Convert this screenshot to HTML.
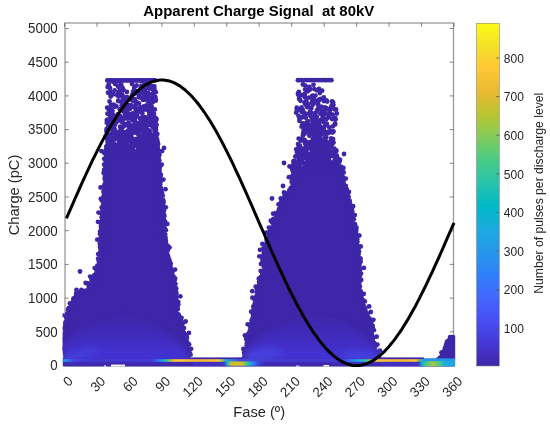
<!DOCTYPE html>
<html lang="en"><head><meta charset="utf-8"><title>Apparent Charge Signal at 80kV</title>
<style>html,body{margin:0;padding:0;background:#fff;}body{width:550px;height:428px;overflow:hidden;font-family:'Liberation Sans',Arial,sans-serif;}</style>
</head><body>
<svg width="550" height="428" viewBox="0 0 550 428" style="display:block">
<defs>
<linearGradient id="par" x1="0" y1="1" x2="0" y2="0">
<stop offset="0.0000" stop-color="#3E26A8"/>
<stop offset="0.0667" stop-color="#4538D7"/>
<stop offset="0.1333" stop-color="#484FF2"/>
<stop offset="0.2000" stop-color="#4367FD"/>
<stop offset="0.2667" stop-color="#2F80FA"/>
<stop offset="0.3333" stop-color="#2797EB"/>
<stop offset="0.4000" stop-color="#1CAADF"/>
<stop offset="0.4667" stop-color="#00B9C7"/>
<stop offset="0.5333" stop-color="#29C3AA"/>
<stop offset="0.6000" stop-color="#48CB86"/>
<stop offset="0.6667" stop-color="#81CC59"/>
<stop offset="0.7333" stop-color="#BBC42F"/>
<stop offset="0.8000" stop-color="#EABA30"/>
<stop offset="0.8667" stop-color="#FEC735"/>
<stop offset="0.9333" stop-color="#F5E128"/>
<stop offset="1.0000" stop-color="#F9FB15"/>
</linearGradient>
<linearGradient id="h1" gradientUnits="userSpaceOnUse" x1="62.5" y1="0" x2="455.5" y2="0">
<stop offset="0.0000" stop-color="#1CAADF" stop-opacity="1"/>
<stop offset="0.0140" stop-color="#2F80FA" stop-opacity="0.9"/>
<stop offset="0.0318" stop-color="#484FF2" stop-opacity="0.5"/>
<stop offset="0.0700" stop-color="#484FF2" stop-opacity="0.25"/>
<stop offset="0.2226" stop-color="#484FF2" stop-opacity="0.35"/>
<stop offset="0.2430" stop-color="#2F80FA" stop-opacity="0.8"/>
<stop offset="0.2557" stop-color="#1CAADF" stop-opacity="1"/>
<stop offset="0.2684" stop-color="#48CB86" stop-opacity="1"/>
<stop offset="0.2786" stop-color="#EABA30" stop-opacity="1"/>
<stop offset="0.2888" stop-color="#FEC735" stop-opacity="1"/>
<stop offset="0.3499" stop-color="#F2B534" stop-opacity="1"/>
<stop offset="0.3982" stop-color="#FEC735" stop-opacity="1"/>
<stop offset="0.4084" stop-color="#81CC59" stop-opacity="1"/>
<stop offset="0.4160" stop-color="#1CAADF" stop-opacity="1"/>
<stop offset="0.4288" stop-color="#2797EB" stop-opacity="0.9"/>
<stop offset="0.4517" stop-color="#4367FD" stop-opacity="0.6"/>
<stop offset="0.5076" stop-color="#484FF2" stop-opacity="0.3"/>
<stop offset="0.7061" stop-color="#484FF2" stop-opacity="0.3"/>
<stop offset="0.7316" stop-color="#2F80FA" stop-opacity="0.8"/>
<stop offset="0.7519" stop-color="#1CAADF" stop-opacity="1"/>
<stop offset="0.7723" stop-color="#29C3AA" stop-opacity="1"/>
<stop offset="0.7875" stop-color="#BBC42F" stop-opacity="1"/>
<stop offset="0.8028" stop-color="#FEC735" stop-opacity="1"/>
<stop offset="0.8588" stop-color="#F2B534" stop-opacity="1"/>
<stop offset="0.8995" stop-color="#FEC735" stop-opacity="1"/>
<stop offset="0.9097" stop-color="#81CC59" stop-opacity="1"/>
<stop offset="0.9198" stop-color="#1CAADF" stop-opacity="1"/>
<stop offset="1.0000" stop-color="#1CAADF" stop-opacity="1"/>
</linearGradient>
<linearGradient id="h2" gradientUnits="userSpaceOnUse" x1="222" y1="0" x2="455.5" y2="0">
<stop offset="0.0000" stop-color="#3E26A8" stop-opacity="0"/>
<stop offset="0.0214" stop-color="#1CAADF" stop-opacity="1"/>
<stop offset="0.0385" stop-color="#BBC42F" stop-opacity="1"/>
<stop offset="0.0642" stop-color="#E0BE30" stop-opacity="1"/>
<stop offset="0.0899" stop-color="#BBC42F" stop-opacity="1"/>
<stop offset="0.1113" stop-color="#29C3AA" stop-opacity="1"/>
<stop offset="0.1370" stop-color="#2F80FA" stop-opacity="0.9"/>
<stop offset="0.1884" stop-color="#4538D7" stop-opacity="0"/>
<stop offset="0.8308" stop-color="#3E26A8" stop-opacity="0"/>
<stop offset="0.8565" stop-color="#1CAADF" stop-opacity="1"/>
<stop offset="0.8737" stop-color="#48CB86" stop-opacity="1"/>
<stop offset="0.9036" stop-color="#A5C845" stop-opacity="1"/>
<stop offset="0.9336" stop-color="#48CB86" stop-opacity="1"/>
<stop offset="0.9550" stop-color="#1CAADF" stop-opacity="1"/>
<stop offset="1.0000" stop-color="#1CAADF" stop-opacity="1"/>
</linearGradient>
<linearGradient id="glow" gradientUnits="userSpaceOnUse" x1="0" y1="312" x2="0" y2="360"><stop offset="0" stop-color="#4030D0" stop-opacity="0"/><stop offset="0.3" stop-color="#4030D0" stop-opacity="0.3"/><stop offset="0.65" stop-color="#4232D6" stop-opacity="0.6"/><stop offset="1" stop-color="#4438E0" stop-opacity="0.9"/></linearGradient>
<filter id="bl" x="-5%" y="-50%" width="110%" height="200%"><feGaussianBlur stdDeviation="0.7"/></filter>
<filter id="bl2" x="-10%" y="-10%" width="120%" height="120%"><feGaussianBlur stdDeviation="3"/></filter>
<clipPath id="axclip"><rect x="62.6" y="20" width="392.6" height="346.6"/></clipPath>
</defs>
<rect width="550" height="428" fill="#fff"/>
<rect x="65.0" y="23.0" width="388.5" height="343.0" fill="none" stroke="#9a9a9a" stroke-width="1.3"/>
<g stroke="#555" stroke-width="0.7" fill="none">
<line x1="64.5" y1="23.0" x2="64.5" y2="26.8"/>
<line x1="64.5" y1="366.0" x2="64.5" y2="362.2"/>
<line x1="97.0" y1="23.0" x2="97.0" y2="26.8"/>
<line x1="97.0" y1="366.0" x2="97.0" y2="362.2"/>
<line x1="129.4" y1="23.0" x2="129.4" y2="26.8"/>
<line x1="129.4" y1="366.0" x2="129.4" y2="362.2"/>
<line x1="161.9" y1="23.0" x2="161.9" y2="26.8"/>
<line x1="161.9" y1="366.0" x2="161.9" y2="362.2"/>
<line x1="194.3" y1="23.0" x2="194.3" y2="26.8"/>
<line x1="194.3" y1="366.0" x2="194.3" y2="362.2"/>
<line x1="226.8" y1="23.0" x2="226.8" y2="26.8"/>
<line x1="226.8" y1="366.0" x2="226.8" y2="362.2"/>
<line x1="259.2" y1="23.0" x2="259.2" y2="26.8"/>
<line x1="259.2" y1="366.0" x2="259.2" y2="362.2"/>
<line x1="291.7" y1="23.0" x2="291.7" y2="26.8"/>
<line x1="291.7" y1="366.0" x2="291.7" y2="362.2"/>
<line x1="324.2" y1="23.0" x2="324.2" y2="26.8"/>
<line x1="324.2" y1="366.0" x2="324.2" y2="362.2"/>
<line x1="356.6" y1="23.0" x2="356.6" y2="26.8"/>
<line x1="356.6" y1="366.0" x2="356.6" y2="362.2"/>
<line x1="389.1" y1="23.0" x2="389.1" y2="26.8"/>
<line x1="389.1" y1="366.0" x2="389.1" y2="362.2"/>
<line x1="421.5" y1="23.0" x2="421.5" y2="26.8"/>
<line x1="421.5" y1="366.0" x2="421.5" y2="362.2"/>
<line x1="454.0" y1="23.0" x2="454.0" y2="26.8"/>
<line x1="454.0" y1="366.0" x2="454.0" y2="362.2"/>
<line x1="65.0" y1="365.5" x2="68.8" y2="365.5"/>
<line x1="453.5" y1="365.5" x2="449.7" y2="365.5"/>
<line x1="65.0" y1="331.8" x2="68.8" y2="331.8"/>
<line x1="453.5" y1="331.8" x2="449.7" y2="331.8"/>
<line x1="65.0" y1="298.1" x2="68.8" y2="298.1"/>
<line x1="453.5" y1="298.1" x2="449.7" y2="298.1"/>
<line x1="65.0" y1="264.4" x2="68.8" y2="264.4"/>
<line x1="453.5" y1="264.4" x2="449.7" y2="264.4"/>
<line x1="65.0" y1="230.7" x2="68.8" y2="230.7"/>
<line x1="453.5" y1="230.7" x2="449.7" y2="230.7"/>
<line x1="65.0" y1="197.0" x2="68.8" y2="197.0"/>
<line x1="453.5" y1="197.0" x2="449.7" y2="197.0"/>
<line x1="65.0" y1="163.3" x2="68.8" y2="163.3"/>
<line x1="453.5" y1="163.3" x2="449.7" y2="163.3"/>
<line x1="65.0" y1="129.6" x2="68.8" y2="129.6"/>
<line x1="453.5" y1="129.6" x2="449.7" y2="129.6"/>
<line x1="65.0" y1="95.9" x2="68.8" y2="95.9"/>
<line x1="453.5" y1="95.9" x2="449.7" y2="95.9"/>
<line x1="65.0" y1="62.2" x2="68.8" y2="62.2"/>
<line x1="453.5" y1="62.2" x2="449.7" y2="62.2"/>
<line x1="65.0" y1="28.5" x2="68.8" y2="28.5"/>
<line x1="453.5" y1="28.5" x2="449.7" y2="28.5"/>
</g>
<g clip-path="url(#axclip)">
<g fill="#3E26A8">
<polygon points="106.5,150.0 106.4,152.0 106.4,154.0 106.3,156.0 106.3,158.0 106.2,160.0 106.2,162.0 106.1,164.0 106.1,166.0 106.0,168.0 106.0,170.0 105.9,172.0 105.7,174.0 105.6,176.0 105.5,178.0 105.3,180.0 105.2,182.0 105.0,184.0 104.9,186.0 104.8,188.0 104.6,190.0 104.5,192.0 104.3,194.0 104.2,196.0 104.1,198.0 103.9,200.0 103.8,202.0 103.7,204.0 103.6,206.0 103.4,208.0 103.3,210.0 103.2,212.0 103.1,214.0 103.0,216.0 102.8,218.0 102.7,220.0 102.6,222.0 102.5,224.0 102.3,226.0 102.2,228.0 102.1,230.0 102.0,232.0 101.9,234.0 101.7,236.0 101.6,238.0 101.5,240.0 101.4,242.0 101.3,244.0 101.2,246.0 101.1,248.0 101.0,250.0 100.8,252.0 100.5,254.0 100.3,256.0 100.1,258.0 99.8,260.0 99.6,262.0 99.2,264.0 98.5,266.0 97.9,268.0 97.3,270.0 96.6,272.0 96.0,274.0 95.1,276.0 94.2,278.0 93.4,280.0 92.5,282.0 91.0,284.0 89.5,286.0 88.0,288.0 79.3,290.0 78.2,292.0 77.1,294.0 76.0,296.0 74.9,298.0 73.8,300.0 72.6,302.0 71.4,304.0 70.2,306.0 69.0,308.0 68.5,310.0 68.0,312.0 67.5,314.0 67.0,316.0 66.5,318.0 66.2,320.0 65.8,322.0 65.5,324.0 65.5,326.0 65.5,328.0 65.5,330.0 65.5,332.0 65.5,334.0 65.5,336.0 65.5,338.0 65.5,340.0 65.5,342.0 65.5,344.0 65.5,346.0 65.5,348.0 65.5,350.0 65.5,352.0 65.5,354.0 65.5,356.0 65.5,358.0 189.5,358.0 189.3,356.0 189.1,354.0 188.9,352.0 188.4,350.0 188.0,348.0 187.5,346.0 187.0,344.0 186.6,342.0 186.1,340.0 185.6,338.0 185.1,336.0 184.5,334.0 183.9,332.0 183.3,330.0 182.7,328.0 182.1,326.0 181.6,324.0 181.0,322.0 180.4,320.0 179.8,318.0 179.2,316.0 178.6,314.0 178.0,312.0 177.6,310.0 177.3,308.0 177.0,306.0 176.7,304.0 176.4,302.0 176.1,300.0 175.8,298.0 175.5,296.0 175.2,294.0 174.9,292.0 174.6,290.0 174.3,288.0 174.0,286.0 173.6,284.0 173.1,282.0 172.7,280.0 172.3,278.0 171.9,276.0 171.4,274.0 171.0,272.0 170.6,270.0 170.1,268.0 169.7,266.0 169.3,264.0 168.9,262.0 168.4,260.0 168.0,258.0 167.7,256.0 167.4,254.0 167.1,252.0 166.8,250.0 166.5,248.0 166.2,246.0 165.9,244.0 165.6,242.0 165.3,240.0 165.0,238.0 164.7,236.0 164.4,234.0 164.2,232.0 164.0,230.0 163.9,228.0 163.7,226.0 163.5,224.0 163.3,222.0 163.1,220.0 163.0,218.0 162.8,216.0 162.6,214.0 162.4,212.0 162.2,210.0 162.0,208.0 161.9,206.0 161.7,204.0 161.5,202.0 161.3,200.0 161.2,198.0 161.0,196.0 160.8,194.0 160.7,192.0 160.5,190.0 160.4,188.0 160.2,186.0 160.0,184.0 159.9,182.0 159.7,180.0 159.5,178.0 159.4,176.0 159.2,174.0 159.0,172.0 158.9,170.0 158.8,168.0 158.7,166.0 158.6,164.0 158.5,162.0 158.4,160.0 158.3,158.0 158.2,156.0 158.1,154.0 158.0,152.0 157.9,150.0"/>
<polygon points="293.7,170.0 293.6,172.0 293.5,174.0 293.4,176.0 293.3,178.0 293.3,180.0 293.2,182.0 293.1,184.0 293.0,186.0 291.5,188.0 290.0,190.0 288.5,192.0 287.0,194.0 285.5,196.0 284.0,198.0 283.2,200.0 282.3,202.0 281.5,204.0 280.6,206.0 279.8,208.0 278.9,210.0 278.1,212.0 277.2,214.0 276.4,216.0 275.5,218.0 274.7,220.0 273.8,222.0 273.0,224.0 272.3,226.0 271.6,228.0 270.9,230.0 270.2,232.0 269.5,234.0 268.8,236.0 268.2,238.0 267.5,240.0 266.8,242.0 266.1,244.0 265.4,246.0 264.7,248.0 264.0,250.0 264.0,252.0 264.0,254.0 264.0,256.0 264.0,258.0 264.0,260.0 264.0,262.0 264.0,264.0 264.0,266.0 264.0,268.0 263.4,270.0 262.9,272.0 262.3,274.0 261.7,276.0 261.2,278.0 260.6,280.0 260.0,282.0 259.5,284.0 258.9,286.0 258.3,288.0 257.8,290.0 257.4,292.0 257.1,294.0 256.9,296.0 256.6,298.0 256.4,300.0 256.1,302.0 255.9,304.0 255.6,306.0 255.4,308.0 255.1,310.0 254.8,312.0 254.2,314.0 253.8,316.0 253.2,318.0 252.8,320.0 252.2,322.0 251.8,324.0 251.2,326.0 250.8,328.0 250.2,330.0 249.8,332.0 249.2,334.0 248.8,336.0 248.3,338.0 247.9,340.0 247.6,342.0 247.2,344.0 246.8,346.0 246.5,348.0 246.1,350.0 245.7,352.0 245.3,354.0 245.0,356.0 244.6,358.0 377.4,358.0 376.8,356.0 376.1,354.0 375.4,352.0 374.8,350.0 374.4,348.0 373.9,346.0 373.5,344.0 373.1,342.0 372.6,340.0 372.2,338.0 371.9,336.0 371.8,334.0 371.6,332.0 371.5,330.0 371.3,328.0 371.2,326.0 371.0,324.0 370.2,322.0 369.4,320.0 368.6,318.0 367.8,316.0 367.0,314.0 366.2,312.0 365.4,310.0 364.7,308.0 364.0,306.0 363.2,304.0 362.5,302.0 361.7,300.0 361.0,298.0 360.6,296.0 360.2,294.0 359.8,292.0 359.3,290.0 358.9,288.0 358.5,286.0 358.6,284.0 358.7,282.0 358.7,280.0 358.8,278.0 358.9,276.0 359.0,274.0 359.0,272.0 359.1,270.0 359.2,268.0 359.1,266.0 358.9,264.0 358.8,262.0 358.7,260.0 358.5,258.0 358.4,256.0 358.3,254.0 358.1,252.0 358.0,250.0 357.6,248.0 357.2,246.0 356.8,244.0 356.5,242.0 356.1,240.0 355.7,238.0 355.3,236.0 354.9,234.0 354.5,232.0 354.2,230.0 353.8,228.0 353.4,226.0 353.0,224.0 352.6,222.0 352.2,220.0 351.8,218.0 351.4,216.0 351.0,214.0 350.6,212.0 350.1,210.0 349.7,208.0 349.3,206.0 348.9,204.0 348.5,202.0 348.1,200.0 347.7,198.0 347.1,196.0 346.5,194.0 345.9,192.0 345.2,190.0 344.6,188.0 344.0,186.0 343.7,184.0 343.3,182.0 343.0,180.0 342.6,178.0 342.3,176.0 341.9,174.0 341.6,172.0 341.2,170.0"/>
<polygon points="450.5,336.5 447,342 444,348 441,354 438.3,358.6 456,358.6 456,336.5"/>
<rect x="62.5" y="357.4" width="393" height="9.3"/>
<rect x="424" y="355" width="12.3" height="3.6" fill="#fff"/>
<circle cx="108.9" cy="146.8" r="2.4"/>
<circle cx="107.5" cy="147.2" r="2.4"/>
<circle cx="107.6" cy="147.5" r="2.4"/>
<circle cx="109.1" cy="148.8" r="2.4"/>
<circle cx="106.4" cy="150.0" r="2.4"/>
<circle cx="107.1" cy="152.4" r="2.4"/>
<circle cx="107.8" cy="153.8" r="2.4"/>
<circle cx="106.2" cy="153.5" r="2.4"/>
<circle cx="108.8" cy="154.5" r="2.4"/>
<circle cx="108.5" cy="156.6" r="2.4"/>
<circle cx="107.8" cy="158.0" r="2.4"/>
<circle cx="108.9" cy="158.3" r="2.4"/>
<circle cx="107.6" cy="159.9" r="2.4"/>
<circle cx="107.5" cy="161.3" r="2.4"/>
<circle cx="106.6" cy="162.8" r="2.4"/>
<circle cx="107.1" cy="165.2" r="2.4"/>
<circle cx="107.9" cy="166.9" r="2.4"/>
<circle cx="107.4" cy="167.4" r="2.4"/>
<circle cx="107.2" cy="167.2" r="2.4"/>
<circle cx="106.2" cy="169.5" r="2.4"/>
<circle cx="106.4" cy="170.8" r="2.4"/>
<circle cx="107.1" cy="172.6" r="2.4"/>
<circle cx="106.9" cy="174.1" r="2.4"/>
<circle cx="106.1" cy="174.9" r="2.4"/>
<circle cx="105.6" cy="176.1" r="2.4"/>
<circle cx="106.0" cy="176.9" r="2.4"/>
<circle cx="107.7" cy="178.4" r="2.4"/>
<circle cx="105.5" cy="179.1" r="2.4"/>
<circle cx="106.7" cy="181.4" r="2.4"/>
<circle cx="106.5" cy="181.7" r="2.4"/>
<circle cx="105.0" cy="183.8" r="2.4"/>
<circle cx="106.4" cy="184.2" r="2.4"/>
<circle cx="104.4" cy="185.4" r="2.4"/>
<circle cx="106.9" cy="186.7" r="2.4"/>
<circle cx="105.6" cy="187.9" r="2.4"/>
<circle cx="106.1" cy="188.9" r="2.4"/>
<circle cx="104.1" cy="190.7" r="2.4"/>
<circle cx="105.2" cy="192.1" r="2.4"/>
<circle cx="104.1" cy="193.0" r="2.4"/>
<circle cx="104.4" cy="194.1" r="2.4"/>
<circle cx="106.7" cy="195.8" r="2.4"/>
<circle cx="106.8" cy="196.0" r="2.4"/>
<circle cx="105.8" cy="196.6" r="2.4"/>
<circle cx="106.4" cy="197.5" r="2.4"/>
<circle cx="106.7" cy="200.0" r="2.4"/>
<circle cx="106.3" cy="200.3" r="2.4"/>
<circle cx="105.4" cy="201.2" r="2.4"/>
<circle cx="104.9" cy="203.5" r="2.4"/>
<circle cx="106.2" cy="204.2" r="2.4"/>
<circle cx="103.6" cy="204.8" r="2.4"/>
<circle cx="103.1" cy="206.2" r="2.4"/>
<circle cx="104.5" cy="206.4" r="2.4"/>
<circle cx="102.8" cy="209.0" r="2.4"/>
<circle cx="105.3" cy="209.9" r="2.4"/>
<circle cx="103.4" cy="211.0" r="2.4"/>
<circle cx="104.9" cy="212.2" r="2.4"/>
<circle cx="102.4" cy="214.6" r="2.4"/>
<circle cx="102.9" cy="216.1" r="2.4"/>
<circle cx="104.0" cy="216.6" r="2.4"/>
<circle cx="105.6" cy="217.4" r="2.4"/>
<circle cx="103.2" cy="219.4" r="2.4"/>
<circle cx="102.2" cy="220.6" r="2.4"/>
<circle cx="104.2" cy="221.3" r="2.4"/>
<circle cx="104.7" cy="222.3" r="2.4"/>
<circle cx="102.1" cy="224.6" r="2.4"/>
<circle cx="102.9" cy="225.8" r="2.4"/>
<circle cx="102.8" cy="226.9" r="2.4"/>
<circle cx="102.5" cy="227.8" r="2.4"/>
<circle cx="102.3" cy="228.5" r="2.4"/>
<circle cx="101.5" cy="230.2" r="2.4"/>
<circle cx="101.5" cy="231.9" r="2.4"/>
<circle cx="104.4" cy="232.1" r="2.4"/>
<circle cx="101.9" cy="233.7" r="2.4"/>
<circle cx="102.3" cy="236.2" r="2.4"/>
<circle cx="104.1" cy="237.1" r="2.4"/>
<circle cx="102.1" cy="239.6" r="2.4"/>
<circle cx="102.8" cy="242.0" r="2.4"/>
<circle cx="103.5" cy="242.7" r="2.4"/>
<circle cx="103.3" cy="244.3" r="2.4"/>
<circle cx="102.7" cy="244.6" r="2.4"/>
<circle cx="102.8" cy="246.8" r="2.4"/>
<circle cx="100.8" cy="248.1" r="2.4"/>
<circle cx="102.1" cy="250.0" r="2.4"/>
<circle cx="102.3" cy="250.0" r="2.4"/>
<circle cx="101.0" cy="250.6" r="2.4"/>
<circle cx="101.0" cy="252.5" r="2.4"/>
<circle cx="101.6" cy="253.7" r="2.4"/>
<circle cx="102.9" cy="255.5" r="2.4"/>
<circle cx="102.1" cy="256.8" r="2.4"/>
<circle cx="101.0" cy="258.0" r="2.4"/>
<circle cx="101.2" cy="259.5" r="2.4"/>
<circle cx="100.8" cy="260.9" r="2.4"/>
<circle cx="100.7" cy="261.8" r="2.4"/>
<circle cx="98.7" cy="265.4" r="2.4"/>
<circle cx="99.4" cy="266.7" r="2.4"/>
<circle cx="100.7" cy="267.5" r="2.4"/>
<circle cx="100.5" cy="268.9" r="2.4"/>
<circle cx="98.0" cy="269.9" r="2.4"/>
<circle cx="99.2" cy="272.0" r="2.4"/>
<circle cx="98.7" cy="273.7" r="2.4"/>
<circle cx="97.9" cy="275.4" r="2.4"/>
<circle cx="94.7" cy="276.0" r="2.4"/>
<circle cx="96.3" cy="277.2" r="2.4"/>
<circle cx="96.8" cy="278.3" r="2.4"/>
<circle cx="96.6" cy="280.3" r="2.4"/>
<circle cx="96.2" cy="281.1" r="2.4"/>
<circle cx="94.2" cy="281.3" r="2.4"/>
<circle cx="92.0" cy="283.9" r="2.4"/>
<circle cx="93.6" cy="286.1" r="2.4"/>
<circle cx="93.0" cy="286.3" r="2.4"/>
<circle cx="90.2" cy="286.0" r="2.4"/>
<circle cx="89.1" cy="286.9" r="2.4"/>
<circle cx="91.0" cy="289.2" r="2.4"/>
<circle cx="89.2" cy="289.7" r="2.4"/>
<circle cx="85.5" cy="291.0" r="2.4"/>
<circle cx="83.3" cy="294.2" r="2.4"/>
<circle cx="82.3" cy="293.4" r="2.4"/>
<circle cx="81.3" cy="293.9" r="2.4"/>
<circle cx="80.1" cy="294.3" r="2.4"/>
<circle cx="79.2" cy="295.2" r="2.4"/>
<circle cx="77.0" cy="294.7" r="2.4"/>
<circle cx="80.7" cy="292.9" r="2.4"/>
<circle cx="80.3" cy="293.0" r="2.4"/>
<circle cx="78.6" cy="294.1" r="2.4"/>
<circle cx="76.8" cy="294.4" r="2.4"/>
<circle cx="77.3" cy="297.2" r="2.4"/>
<circle cx="76.6" cy="298.8" r="2.4"/>
<circle cx="74.2" cy="298.9" r="2.4"/>
<circle cx="74.1" cy="301.5" r="2.4"/>
<circle cx="75.5" cy="303.2" r="2.4"/>
<circle cx="72.9" cy="302.8" r="2.4"/>
<circle cx="73.9" cy="305.6" r="2.4"/>
<circle cx="71.7" cy="305.3" r="2.4"/>
<circle cx="72.2" cy="307.1" r="2.4"/>
<circle cx="71.4" cy="307.3" r="2.4"/>
<circle cx="68.7" cy="308.3" r="2.4"/>
<circle cx="68.4" cy="308.9" r="2.4"/>
<circle cx="70.4" cy="309.1" r="2.4"/>
<circle cx="70.7" cy="310.5" r="2.4"/>
<circle cx="70.4" cy="310.6" r="2.4"/>
<circle cx="70.9" cy="311.8" r="2.4"/>
<circle cx="69.8" cy="313.6" r="2.4"/>
<circle cx="67.7" cy="314.6" r="2.4"/>
<circle cx="67.0" cy="315.5" r="2.4"/>
<circle cx="66.4" cy="316.1" r="2.4"/>
<circle cx="67.3" cy="317.8" r="2.4"/>
<circle cx="66.9" cy="320.1" r="2.4"/>
<circle cx="68.3" cy="321.7" r="2.4"/>
<circle cx="65.6" cy="323.0" r="2.4"/>
<circle cx="66.2" cy="324.9" r="2.4"/>
<circle cx="67.5" cy="324.2" r="2.4"/>
<circle cx="67.1" cy="325.2" r="2.4"/>
<circle cx="66.4" cy="327.7" r="2.4"/>
<circle cx="66.0" cy="328.9" r="2.4"/>
<circle cx="65.6" cy="330.1" r="2.4"/>
<circle cx="66.5" cy="331.2" r="2.4"/>
<circle cx="65.8" cy="331.4" r="2.4"/>
<circle cx="67.4" cy="333.1" r="2.4"/>
<circle cx="65.8" cy="334.4" r="2.4"/>
<circle cx="67.0" cy="334.9" r="2.4"/>
<circle cx="65.7" cy="336.7" r="2.4"/>
<circle cx="68.1" cy="337.4" r="2.4"/>
<circle cx="65.7" cy="338.7" r="2.4"/>
<circle cx="68.3" cy="339.6" r="2.4"/>
<circle cx="66.0" cy="341.7" r="2.4"/>
<circle cx="67.3" cy="342.9" r="2.4"/>
<circle cx="66.7" cy="343.5" r="2.4"/>
<circle cx="67.7" cy="346.6" r="2.4"/>
<circle cx="68.3" cy="347.5" r="2.4"/>
<circle cx="65.0" cy="349.2" r="2.4"/>
<circle cx="67.6" cy="351.0" r="2.4"/>
<circle cx="66.3" cy="350.7" r="2.4"/>
<circle cx="65.0" cy="352.0" r="2.4"/>
<circle cx="66.6" cy="354.9" r="2.4"/>
<circle cx="67.5" cy="356.4" r="2.4"/>
<circle cx="68.3" cy="356.3" r="2.4"/>
<circle cx="106.2" cy="146.7" r="2.4"/>
<circle cx="106.1" cy="150.1" r="2.4"/>
<circle cx="105.0" cy="151.6" r="2.4"/>
<circle cx="104.5" cy="153.2" r="2.4"/>
<circle cx="106.0" cy="156.1" r="2.4"/>
<circle cx="104.2" cy="158.8" r="2.4"/>
<circle cx="105.5" cy="160.6" r="2.4"/>
<circle cx="106.3" cy="163.2" r="2.4"/>
<circle cx="104.2" cy="164.4" r="2.4"/>
<circle cx="105.2" cy="166.4" r="2.4"/>
<circle cx="104.1" cy="169.8" r="2.4"/>
<circle cx="104.0" cy="172.4" r="2.4"/>
<circle cx="104.4" cy="173.7" r="2.4"/>
<circle cx="104.7" cy="178.0" r="2.4"/>
<circle cx="105.0" cy="179.8" r="2.4"/>
<circle cx="105.1" cy="183.9" r="2.4"/>
<circle cx="104.5" cy="186.6" r="2.4"/>
<circle cx="104.4" cy="190.1" r="2.4"/>
<circle cx="103.5" cy="191.8" r="2.4"/>
<circle cx="104.4" cy="193.5" r="2.4"/>
<circle cx="103.3" cy="196.9" r="2.4"/>
<circle cx="101.9" cy="200.6" r="2.4"/>
<circle cx="103.9" cy="202.4" r="2.4"/>
<circle cx="103.5" cy="204.0" r="2.4"/>
<circle cx="101.7" cy="207.5" r="2.4"/>
<circle cx="102.7" cy="209.6" r="2.4"/>
<circle cx="102.8" cy="211.2" r="2.4"/>
<circle cx="101.1" cy="213.3" r="2.4"/>
<circle cx="101.7" cy="217.2" r="2.4"/>
<circle cx="102.5" cy="218.2" r="2.4"/>
<circle cx="101.9" cy="221.7" r="2.4"/>
<circle cx="100.8" cy="223.5" r="2.4"/>
<circle cx="101.0" cy="226.5" r="2.4"/>
<circle cx="101.2" cy="227.7" r="2.4"/>
<circle cx="100.2" cy="231.3" r="2.4"/>
<circle cx="99.9" cy="233.7" r="2.4"/>
<circle cx="100.9" cy="235.8" r="2.4"/>
<circle cx="100.2" cy="239.2" r="2.4"/>
<circle cx="100.7" cy="242.3" r="2.4"/>
<circle cx="99.8" cy="243.4" r="2.4"/>
<circle cx="100.0" cy="247.0" r="2.4"/>
<circle cx="100.8" cy="249.4" r="2.4"/>
<circle cx="101.1" cy="250.7" r="2.4"/>
<circle cx="100.1" cy="252.9" r="2.4"/>
<circle cx="100.7" cy="255.9" r="2.4"/>
<circle cx="98.1" cy="258.7" r="2.4"/>
<circle cx="98.9" cy="261.5" r="2.4"/>
<circle cx="97.4" cy="265.6" r="2.4"/>
<circle cx="97.2" cy="267.8" r="2.4"/>
<circle cx="97.0" cy="270.3" r="2.4"/>
<circle cx="96.4" cy="272.7" r="2.4"/>
<circle cx="94.3" cy="275.2" r="2.4"/>
<circle cx="92.7" cy="278.6" r="2.4"/>
<circle cx="91.5" cy="279.9" r="2.4"/>
<circle cx="91.1" cy="284.5" r="2.4"/>
<circle cx="88.7" cy="284.9" r="2.4"/>
<circle cx="89.0" cy="287.4" r="2.4"/>
<circle cx="83.4" cy="291.4" r="2.4"/>
<circle cx="81.4" cy="289.9" r="2.4"/>
<circle cx="79.9" cy="292.5" r="2.4"/>
<circle cx="76.2" cy="293.5" r="2.4"/>
<circle cx="76.0" cy="295.9" r="2.4"/>
<circle cx="73.6" cy="298.3" r="2.4"/>
<circle cx="73.1" cy="300.9" r="2.4"/>
<circle cx="73.0" cy="302.9" r="2.4"/>
<circle cx="69.9" cy="303.5" r="2.4"/>
<circle cx="69.5" cy="307.8" r="2.4"/>
<circle cx="67.9" cy="309.9" r="2.4"/>
<circle cx="67.1" cy="313.8" r="2.4"/>
<circle cx="66.6" cy="315.7" r="2.4"/>
<circle cx="66.2" cy="317.1" r="2.4"/>
<circle cx="66.8" cy="318.0" r="2.4"/>
<circle cx="65.5" cy="322.4" r="2.4"/>
<circle cx="65.2" cy="325.6" r="2.4"/>
<circle cx="65.2" cy="328.1" r="2.4"/>
<circle cx="65.2" cy="329.1" r="2.4"/>
<circle cx="63.7" cy="333.3" r="2.4"/>
<circle cx="65.8" cy="336.2" r="2.4"/>
<circle cx="63.6" cy="339.9" r="2.4"/>
<circle cx="65.2" cy="341.4" r="2.4"/>
<circle cx="63.6" cy="343.6" r="2.4"/>
<circle cx="64.1" cy="347.8" r="2.4"/>
<circle cx="64.4" cy="350.2" r="2.4"/>
<circle cx="65.0" cy="353.2" r="2.4"/>
<circle cx="65.4" cy="354.8" r="2.4"/>
<circle cx="65.7" cy="355.8" r="2.4"/>
<circle cx="101.4" cy="151.1" r="2.4"/>
<circle cx="103.7" cy="173.1" r="2.4"/>
<circle cx="100.6" cy="187.5" r="2.4"/>
<circle cx="100.8" cy="198.8" r="2.4"/>
<circle cx="98.5" cy="212.6" r="2.4"/>
<circle cx="98.0" cy="221.8" r="2.4"/>
<circle cx="97.3" cy="239.7" r="2.4"/>
<circle cx="98.2" cy="254.1" r="2.4"/>
<circle cx="94.7" cy="268.1" r="2.4"/>
<circle cx="90.2" cy="276.6" r="2.4"/>
<circle cx="88.0" cy="283.3" r="2.4"/>
<circle cx="76.5" cy="290.0" r="2.4"/>
<circle cx="62.2" cy="315.3" r="2.4"/>
<circle cx="61.1" cy="328.4" r="2.4"/>
<circle cx="61.7" cy="337.4" r="2.4"/>
<circle cx="62.4" cy="347.5" r="2.4"/>
<circle cx="157.0" cy="146.8" r="2.4"/>
<circle cx="154.9" cy="147.3" r="2.4"/>
<circle cx="155.6" cy="148.8" r="2.4"/>
<circle cx="157.8" cy="150.0" r="2.4"/>
<circle cx="155.4" cy="150.7" r="2.4"/>
<circle cx="157.3" cy="151.5" r="2.4"/>
<circle cx="157.6" cy="153.0" r="2.4"/>
<circle cx="156.3" cy="155.0" r="2.4"/>
<circle cx="157.3" cy="155.1" r="2.4"/>
<circle cx="158.4" cy="157.3" r="2.4"/>
<circle cx="156.1" cy="158.1" r="2.4"/>
<circle cx="155.5" cy="159.4" r="2.4"/>
<circle cx="158.4" cy="159.7" r="2.4"/>
<circle cx="157.2" cy="161.1" r="2.4"/>
<circle cx="157.6" cy="162.6" r="2.4"/>
<circle cx="156.0" cy="164.4" r="2.4"/>
<circle cx="157.5" cy="164.7" r="2.4"/>
<circle cx="157.7" cy="167.0" r="2.4"/>
<circle cx="157.6" cy="167.7" r="2.4"/>
<circle cx="156.6" cy="168.5" r="2.4"/>
<circle cx="157.7" cy="169.9" r="2.4"/>
<circle cx="157.6" cy="173.0" r="2.4"/>
<circle cx="159.2" cy="173.1" r="2.4"/>
<circle cx="157.2" cy="175.3" r="2.4"/>
<circle cx="159.4" cy="176.4" r="2.4"/>
<circle cx="158.1" cy="178.1" r="2.4"/>
<circle cx="157.2" cy="178.9" r="2.4"/>
<circle cx="160.0" cy="179.9" r="2.4"/>
<circle cx="159.6" cy="181.3" r="2.4"/>
<circle cx="157.6" cy="184.0" r="2.4"/>
<circle cx="159.4" cy="184.7" r="2.4"/>
<circle cx="159.4" cy="186.1" r="2.4"/>
<circle cx="159.0" cy="187.7" r="2.4"/>
<circle cx="159.7" cy="188.5" r="2.4"/>
<circle cx="160.3" cy="189.9" r="2.4"/>
<circle cx="158.3" cy="190.9" r="2.4"/>
<circle cx="158.2" cy="191.7" r="2.4"/>
<circle cx="159.4" cy="192.6" r="2.4"/>
<circle cx="160.1" cy="192.7" r="2.4"/>
<circle cx="160.8" cy="194.9" r="2.4"/>
<circle cx="159.9" cy="195.6" r="2.4"/>
<circle cx="158.8" cy="198.2" r="2.4"/>
<circle cx="161.0" cy="199.8" r="2.4"/>
<circle cx="161.9" cy="200.2" r="2.4"/>
<circle cx="161.8" cy="201.4" r="2.4"/>
<circle cx="159.0" cy="203.5" r="2.4"/>
<circle cx="159.5" cy="205.9" r="2.4"/>
<circle cx="161.8" cy="205.5" r="2.4"/>
<circle cx="162.3" cy="206.9" r="2.4"/>
<circle cx="161.0" cy="208.3" r="2.4"/>
<circle cx="159.9" cy="208.9" r="2.4"/>
<circle cx="161.9" cy="211.7" r="2.4"/>
<circle cx="162.2" cy="211.4" r="2.4"/>
<circle cx="161.9" cy="213.1" r="2.4"/>
<circle cx="161.8" cy="215.2" r="2.4"/>
<circle cx="160.4" cy="217.7" r="2.4"/>
<circle cx="161.5" cy="218.7" r="2.4"/>
<circle cx="163.7" cy="219.2" r="2.4"/>
<circle cx="163.0" cy="220.2" r="2.4"/>
<circle cx="162.9" cy="220.5" r="2.4"/>
<circle cx="161.5" cy="223.3" r="2.4"/>
<circle cx="162.8" cy="225.0" r="2.4"/>
<circle cx="160.7" cy="225.3" r="2.4"/>
<circle cx="163.0" cy="226.7" r="2.4"/>
<circle cx="164.1" cy="227.4" r="2.4"/>
<circle cx="163.3" cy="228.3" r="2.4"/>
<circle cx="162.4" cy="229.3" r="2.4"/>
<circle cx="162.1" cy="231.3" r="2.4"/>
<circle cx="162.1" cy="232.7" r="2.4"/>
<circle cx="162.1" cy="234.5" r="2.4"/>
<circle cx="162.1" cy="234.2" r="2.4"/>
<circle cx="164.6" cy="236.4" r="2.4"/>
<circle cx="162.1" cy="238.3" r="2.4"/>
<circle cx="163.5" cy="239.4" r="2.4"/>
<circle cx="165.7" cy="240.5" r="2.4"/>
<circle cx="165.6" cy="240.4" r="2.4"/>
<circle cx="164.1" cy="242.3" r="2.4"/>
<circle cx="165.5" cy="242.6" r="2.4"/>
<circle cx="166.3" cy="244.1" r="2.4"/>
<circle cx="165.4" cy="245.8" r="2.4"/>
<circle cx="166.2" cy="246.6" r="2.4"/>
<circle cx="164.6" cy="247.8" r="2.4"/>
<circle cx="166.7" cy="250.2" r="2.4"/>
<circle cx="167.0" cy="251.0" r="2.4"/>
<circle cx="166.8" cy="251.9" r="2.4"/>
<circle cx="164.7" cy="252.9" r="2.4"/>
<circle cx="165.7" cy="254.4" r="2.4"/>
<circle cx="167.7" cy="255.5" r="2.4"/>
<circle cx="166.8" cy="256.3" r="2.4"/>
<circle cx="166.9" cy="257.6" r="2.4"/>
<circle cx="166.4" cy="260.9" r="2.4"/>
<circle cx="166.5" cy="260.6" r="2.4"/>
<circle cx="169.4" cy="262.4" r="2.4"/>
<circle cx="169.2" cy="262.9" r="2.4"/>
<circle cx="169.6" cy="264.4" r="2.4"/>
<circle cx="169.2" cy="266.6" r="2.4"/>
<circle cx="170.0" cy="267.3" r="2.4"/>
<circle cx="169.0" cy="269.2" r="2.4"/>
<circle cx="168.7" cy="269.9" r="2.4"/>
<circle cx="168.4" cy="272.5" r="2.4"/>
<circle cx="168.2" cy="272.2" r="2.4"/>
<circle cx="169.6" cy="273.7" r="2.4"/>
<circle cx="168.9" cy="275.6" r="2.4"/>
<circle cx="171.5" cy="276.6" r="2.4"/>
<circle cx="171.2" cy="276.9" r="2.4"/>
<circle cx="172.5" cy="279.2" r="2.4"/>
<circle cx="172.8" cy="280.0" r="2.4"/>
<circle cx="170.4" cy="281.2" r="2.4"/>
<circle cx="170.5" cy="283.1" r="2.4"/>
<circle cx="172.9" cy="284.2" r="2.4"/>
<circle cx="171.8" cy="284.8" r="2.4"/>
<circle cx="173.6" cy="285.4" r="2.4"/>
<circle cx="171.3" cy="287.0" r="2.4"/>
<circle cx="173.9" cy="287.9" r="2.4"/>
<circle cx="175.0" cy="289.1" r="2.4"/>
<circle cx="173.9" cy="290.2" r="2.4"/>
<circle cx="173.6" cy="292.6" r="2.4"/>
<circle cx="174.7" cy="293.2" r="2.4"/>
<circle cx="175.2" cy="293.4" r="2.4"/>
<circle cx="173.1" cy="295.3" r="2.4"/>
<circle cx="175.5" cy="297.5" r="2.4"/>
<circle cx="174.5" cy="297.6" r="2.4"/>
<circle cx="173.7" cy="299.4" r="2.4"/>
<circle cx="176.1" cy="299.8" r="2.4"/>
<circle cx="174.4" cy="301.8" r="2.4"/>
<circle cx="175.4" cy="303.0" r="2.4"/>
<circle cx="174.3" cy="305.7" r="2.4"/>
<circle cx="176.9" cy="306.6" r="2.4"/>
<circle cx="175.7" cy="307.5" r="2.4"/>
<circle cx="175.0" cy="310.2" r="2.4"/>
<circle cx="175.4" cy="309.9" r="2.4"/>
<circle cx="176.7" cy="313.5" r="2.4"/>
<circle cx="177.1" cy="313.9" r="2.4"/>
<circle cx="178.6" cy="315.2" r="2.4"/>
<circle cx="177.3" cy="316.0" r="2.4"/>
<circle cx="179.1" cy="318.2" r="2.4"/>
<circle cx="178.7" cy="319.4" r="2.4"/>
<circle cx="177.9" cy="320.5" r="2.4"/>
<circle cx="178.6" cy="321.6" r="2.4"/>
<circle cx="180.8" cy="323.2" r="2.4"/>
<circle cx="178.9" cy="323.7" r="2.4"/>
<circle cx="180.4" cy="324.3" r="2.4"/>
<circle cx="180.0" cy="327.0" r="2.4"/>
<circle cx="180.2" cy="328.5" r="2.4"/>
<circle cx="181.4" cy="329.1" r="2.4"/>
<circle cx="182.7" cy="329.5" r="2.4"/>
<circle cx="182.6" cy="330.0" r="2.4"/>
<circle cx="182.0" cy="331.1" r="2.4"/>
<circle cx="184.0" cy="332.8" r="2.4"/>
<circle cx="183.7" cy="333.9" r="2.4"/>
<circle cx="183.8" cy="334.7" r="2.4"/>
<circle cx="185.3" cy="335.9" r="2.4"/>
<circle cx="185.2" cy="337.4" r="2.4"/>
<circle cx="186.0" cy="339.0" r="2.4"/>
<circle cx="186.2" cy="340.3" r="2.4"/>
<circle cx="185.1" cy="341.5" r="2.4"/>
<circle cx="184.2" cy="343.3" r="2.4"/>
<circle cx="186.7" cy="344.7" r="2.4"/>
<circle cx="185.9" cy="345.7" r="2.4"/>
<circle cx="186.3" cy="347.4" r="2.4"/>
<circle cx="185.9" cy="349.3" r="2.4"/>
<circle cx="186.9" cy="350.4" r="2.4"/>
<circle cx="186.1" cy="352.5" r="2.4"/>
<circle cx="189.0" cy="353.5" r="2.4"/>
<circle cx="188.2" cy="353.0" r="2.4"/>
<circle cx="188.1" cy="354.7" r="2.4"/>
<circle cx="188.3" cy="356.0" r="2.4"/>
<circle cx="187.4" cy="358.3" r="2.4"/>
<circle cx="157.8" cy="148.9" r="2.4"/>
<circle cx="157.7" cy="150.1" r="2.4"/>
<circle cx="157.7" cy="152.7" r="2.4"/>
<circle cx="159.4" cy="154.9" r="2.4"/>
<circle cx="158.4" cy="157.7" r="2.4"/>
<circle cx="159.3" cy="160.4" r="2.4"/>
<circle cx="159.1" cy="163.6" r="2.4"/>
<circle cx="160.2" cy="166.3" r="2.4"/>
<circle cx="159.6" cy="168.9" r="2.4"/>
<circle cx="159.5" cy="171.9" r="2.4"/>
<circle cx="160.9" cy="174.8" r="2.4"/>
<circle cx="160.4" cy="176.5" r="2.4"/>
<circle cx="160.3" cy="181.0" r="2.4"/>
<circle cx="160.4" cy="182.1" r="2.4"/>
<circle cx="160.1" cy="184.2" r="2.4"/>
<circle cx="160.6" cy="187.6" r="2.4"/>
<circle cx="161.3" cy="190.0" r="2.4"/>
<circle cx="162.0" cy="192.8" r="2.4"/>
<circle cx="162.7" cy="195.7" r="2.4"/>
<circle cx="163.2" cy="200.2" r="2.4"/>
<circle cx="163.1" cy="201.8" r="2.4"/>
<circle cx="163.5" cy="202.4" r="2.4"/>
<circle cx="161.5" cy="203.8" r="2.4"/>
<circle cx="163.4" cy="206.0" r="2.4"/>
<circle cx="163.9" cy="208.6" r="2.4"/>
<circle cx="164.0" cy="210.2" r="2.4"/>
<circle cx="163.8" cy="213.9" r="2.4"/>
<circle cx="164.4" cy="215.9" r="2.4"/>
<circle cx="164.0" cy="219.8" r="2.4"/>
<circle cx="165.1" cy="221.9" r="2.4"/>
<circle cx="163.7" cy="223.5" r="2.4"/>
<circle cx="163.5" cy="226.6" r="2.4"/>
<circle cx="164.7" cy="228.4" r="2.4"/>
<circle cx="165.8" cy="230.2" r="2.4"/>
<circle cx="165.2" cy="234.5" r="2.4"/>
<circle cx="165.4" cy="237.4" r="2.4"/>
<circle cx="165.3" cy="241.4" r="2.4"/>
<circle cx="165.6" cy="244.2" r="2.4"/>
<circle cx="168.1" cy="246.4" r="2.4"/>
<circle cx="167.7" cy="250.3" r="2.4"/>
<circle cx="167.1" cy="254.3" r="2.4"/>
<circle cx="168.3" cy="257.2" r="2.4"/>
<circle cx="169.3" cy="260.1" r="2.4"/>
<circle cx="169.4" cy="261.5" r="2.4"/>
<circle cx="170.8" cy="263.8" r="2.4"/>
<circle cx="170.6" cy="267.5" r="2.4"/>
<circle cx="171.5" cy="270.3" r="2.4"/>
<circle cx="172.5" cy="272.0" r="2.4"/>
<circle cx="171.9" cy="274.8" r="2.4"/>
<circle cx="173.5" cy="276.5" r="2.4"/>
<circle cx="174.5" cy="280.3" r="2.4"/>
<circle cx="173.3" cy="281.3" r="2.4"/>
<circle cx="175.4" cy="283.9" r="2.4"/>
<circle cx="176.2" cy="288.4" r="2.4"/>
<circle cx="175.9" cy="291.4" r="2.4"/>
<circle cx="176.4" cy="293.4" r="2.4"/>
<circle cx="176.4" cy="297.3" r="2.4"/>
<circle cx="175.8" cy="298.0" r="2.4"/>
<circle cx="178.2" cy="301.8" r="2.4"/>
<circle cx="178.3" cy="304.4" r="2.4"/>
<circle cx="177.3" cy="306.5" r="2.4"/>
<circle cx="177.8" cy="309.1" r="2.4"/>
<circle cx="178.3" cy="314.3" r="2.4"/>
<circle cx="179.1" cy="316.2" r="2.4"/>
<circle cx="181.5" cy="317.8" r="2.4"/>
<circle cx="180.8" cy="319.9" r="2.4"/>
<circle cx="183.1" cy="322.7" r="2.4"/>
<circle cx="181.9" cy="325.9" r="2.4"/>
<circle cx="182.3" cy="326.8" r="2.4"/>
<circle cx="184.0" cy="328.1" r="2.4"/>
<circle cx="184.0" cy="333.1" r="2.4"/>
<circle cx="184.2" cy="334.6" r="2.4"/>
<circle cx="186.2" cy="335.3" r="2.4"/>
<circle cx="187.0" cy="337.7" r="2.4"/>
<circle cx="185.8" cy="339.8" r="2.4"/>
<circle cx="187.5" cy="343.0" r="2.4"/>
<circle cx="189.1" cy="344.4" r="2.4"/>
<circle cx="187.2" cy="346.4" r="2.4"/>
<circle cx="187.9" cy="349.0" r="2.4"/>
<circle cx="189.0" cy="352.8" r="2.4"/>
<circle cx="189.6" cy="353.0" r="2.4"/>
<circle cx="190.5" cy="354.7" r="2.4"/>
<circle cx="161.9" cy="151.2" r="2.4"/>
<circle cx="161.7" cy="164.6" r="2.4"/>
<circle cx="163.4" cy="179.6" r="2.4"/>
<circle cx="165.5" cy="189.2" r="2.4"/>
<circle cx="165.8" cy="207.3" r="2.4"/>
<circle cx="167.3" cy="223.9" r="2.4"/>
<circle cx="169.5" cy="247.6" r="2.4"/>
<circle cx="175.0" cy="269.6" r="2.4"/>
<circle cx="175.1" cy="278.4" r="2.4"/>
<circle cx="180.3" cy="296.3" r="2.4"/>
<circle cx="185.6" cy="321.5" r="2.4"/>
<circle cx="188.9" cy="332.9" r="2.4"/>
<circle cx="191.1" cy="348.8" r="2.4"/>
<circle cx="294.0" cy="167.1" r="2.4"/>
<circle cx="294.5" cy="167.7" r="2.4"/>
<circle cx="295.9" cy="168.4" r="2.4"/>
<circle cx="293.8" cy="170.2" r="2.4"/>
<circle cx="293.7" cy="171.5" r="2.4"/>
<circle cx="294.4" cy="172.8" r="2.4"/>
<circle cx="294.6" cy="173.8" r="2.4"/>
<circle cx="295.7" cy="174.8" r="2.4"/>
<circle cx="293.8" cy="176.0" r="2.4"/>
<circle cx="294.8" cy="177.6" r="2.4"/>
<circle cx="296.0" cy="179.4" r="2.4"/>
<circle cx="295.7" cy="180.0" r="2.4"/>
<circle cx="295.5" cy="181.5" r="2.4"/>
<circle cx="294.2" cy="181.7" r="2.4"/>
<circle cx="292.5" cy="183.8" r="2.4"/>
<circle cx="293.9" cy="184.1" r="2.4"/>
<circle cx="294.3" cy="186.8" r="2.4"/>
<circle cx="291.6" cy="188.0" r="2.4"/>
<circle cx="293.3" cy="190.2" r="2.4"/>
<circle cx="292.8" cy="191.7" r="2.4"/>
<circle cx="290.3" cy="192.7" r="2.4"/>
<circle cx="290.7" cy="194.4" r="2.4"/>
<circle cx="289.5" cy="195.7" r="2.4"/>
<circle cx="287.9" cy="195.2" r="2.4"/>
<circle cx="286.8" cy="196.1" r="2.4"/>
<circle cx="286.9" cy="198.9" r="2.4"/>
<circle cx="286.6" cy="199.0" r="2.4"/>
<circle cx="284.7" cy="200.7" r="2.4"/>
<circle cx="285.6" cy="201.6" r="2.4"/>
<circle cx="283.0" cy="202.5" r="2.4"/>
<circle cx="284.4" cy="203.6" r="2.4"/>
<circle cx="282.3" cy="203.9" r="2.4"/>
<circle cx="281.6" cy="204.7" r="2.4"/>
<circle cx="282.8" cy="206.5" r="2.4"/>
<circle cx="282.5" cy="207.9" r="2.4"/>
<circle cx="280.6" cy="207.8" r="2.4"/>
<circle cx="281.6" cy="209.9" r="2.4"/>
<circle cx="280.3" cy="212.8" r="2.4"/>
<circle cx="278.0" cy="212.2" r="2.4"/>
<circle cx="279.5" cy="215.6" r="2.4"/>
<circle cx="277.5" cy="215.7" r="2.4"/>
<circle cx="276.4" cy="216.5" r="2.4"/>
<circle cx="278.2" cy="218.4" r="2.4"/>
<circle cx="275.8" cy="218.9" r="2.4"/>
<circle cx="275.1" cy="219.1" r="2.4"/>
<circle cx="276.9" cy="221.2" r="2.4"/>
<circle cx="275.8" cy="222.3" r="2.4"/>
<circle cx="274.9" cy="224.6" r="2.4"/>
<circle cx="272.9" cy="223.3" r="2.4"/>
<circle cx="274.6" cy="226.5" r="2.4"/>
<circle cx="274.2" cy="227.0" r="2.4"/>
<circle cx="271.0" cy="228.5" r="2.4"/>
<circle cx="273.7" cy="230.1" r="2.4"/>
<circle cx="273.1" cy="232.4" r="2.4"/>
<circle cx="270.0" cy="231.3" r="2.4"/>
<circle cx="271.6" cy="233.7" r="2.4"/>
<circle cx="269.5" cy="234.5" r="2.4"/>
<circle cx="270.3" cy="236.5" r="2.4"/>
<circle cx="269.9" cy="236.1" r="2.4"/>
<circle cx="268.6" cy="237.6" r="2.4"/>
<circle cx="270.9" cy="238.4" r="2.4"/>
<circle cx="269.0" cy="239.5" r="2.4"/>
<circle cx="268.0" cy="241.0" r="2.4"/>
<circle cx="267.9" cy="241.8" r="2.4"/>
<circle cx="267.0" cy="242.8" r="2.4"/>
<circle cx="268.5" cy="245.6" r="2.4"/>
<circle cx="265.5" cy="245.8" r="2.4"/>
<circle cx="267.8" cy="248.1" r="2.4"/>
<circle cx="264.9" cy="247.3" r="2.4"/>
<circle cx="264.7" cy="248.4" r="2.4"/>
<circle cx="265.7" cy="250.2" r="2.4"/>
<circle cx="265.1" cy="250.6" r="2.4"/>
<circle cx="264.3" cy="250.7" r="2.4"/>
<circle cx="265.7" cy="252.2" r="2.4"/>
<circle cx="264.2" cy="252.3" r="2.4"/>
<circle cx="263.5" cy="254.7" r="2.4"/>
<circle cx="265.0" cy="256.1" r="2.4"/>
<circle cx="263.5" cy="256.4" r="2.4"/>
<circle cx="266.5" cy="257.4" r="2.4"/>
<circle cx="266.7" cy="258.8" r="2.4"/>
<circle cx="266.2" cy="260.2" r="2.4"/>
<circle cx="264.8" cy="262.4" r="2.4"/>
<circle cx="266.5" cy="264.4" r="2.4"/>
<circle cx="266.7" cy="264.8" r="2.4"/>
<circle cx="265.1" cy="266.3" r="2.4"/>
<circle cx="265.4" cy="267.0" r="2.4"/>
<circle cx="265.8" cy="270.6" r="2.4"/>
<circle cx="265.2" cy="272.5" r="2.4"/>
<circle cx="264.1" cy="273.4" r="2.4"/>
<circle cx="263.2" cy="274.8" r="2.4"/>
<circle cx="262.0" cy="276.2" r="2.4"/>
<circle cx="263.1" cy="277.7" r="2.4"/>
<circle cx="260.8" cy="279.7" r="2.4"/>
<circle cx="260.6" cy="279.9" r="2.4"/>
<circle cx="259.5" cy="282.5" r="2.4"/>
<circle cx="261.2" cy="283.5" r="2.4"/>
<circle cx="260.7" cy="283.6" r="2.4"/>
<circle cx="260.5" cy="284.8" r="2.4"/>
<circle cx="258.4" cy="286.4" r="2.4"/>
<circle cx="259.0" cy="288.4" r="2.4"/>
<circle cx="258.0" cy="288.7" r="2.4"/>
<circle cx="259.4" cy="291.6" r="2.4"/>
<circle cx="257.0" cy="292.2" r="2.4"/>
<circle cx="258.3" cy="293.1" r="2.4"/>
<circle cx="258.9" cy="294.8" r="2.4"/>
<circle cx="259.3" cy="296.8" r="2.4"/>
<circle cx="257.7" cy="297.8" r="2.4"/>
<circle cx="257.5" cy="298.9" r="2.4"/>
<circle cx="258.8" cy="300.2" r="2.4"/>
<circle cx="258.1" cy="301.2" r="2.4"/>
<circle cx="257.0" cy="302.9" r="2.4"/>
<circle cx="256.8" cy="304.0" r="2.4"/>
<circle cx="256.2" cy="304.6" r="2.4"/>
<circle cx="256.4" cy="306.0" r="2.4"/>
<circle cx="257.6" cy="306.9" r="2.4"/>
<circle cx="256.8" cy="308.7" r="2.4"/>
<circle cx="256.8" cy="310.0" r="2.4"/>
<circle cx="256.0" cy="310.3" r="2.4"/>
<circle cx="254.4" cy="310.9" r="2.4"/>
<circle cx="257.3" cy="313.1" r="2.4"/>
<circle cx="257.2" cy="313.6" r="2.4"/>
<circle cx="254.7" cy="313.8" r="2.4"/>
<circle cx="253.4" cy="315.6" r="2.4"/>
<circle cx="255.5" cy="316.4" r="2.4"/>
<circle cx="254.0" cy="318.4" r="2.4"/>
<circle cx="253.9" cy="319.9" r="2.4"/>
<circle cx="252.8" cy="320.8" r="2.4"/>
<circle cx="252.5" cy="323.0" r="2.4"/>
<circle cx="252.0" cy="322.4" r="2.4"/>
<circle cx="252.4" cy="324.9" r="2.4"/>
<circle cx="252.1" cy="326.5" r="2.4"/>
<circle cx="250.6" cy="328.1" r="2.4"/>
<circle cx="251.8" cy="329.4" r="2.4"/>
<circle cx="252.0" cy="330.9" r="2.4"/>
<circle cx="251.4" cy="332.0" r="2.4"/>
<circle cx="249.4" cy="333.5" r="2.4"/>
<circle cx="251.4" cy="334.9" r="2.4"/>
<circle cx="249.7" cy="335.9" r="2.4"/>
<circle cx="248.4" cy="336.1" r="2.4"/>
<circle cx="247.8" cy="338.1" r="2.4"/>
<circle cx="247.8" cy="339.0" r="2.4"/>
<circle cx="248.7" cy="340.8" r="2.4"/>
<circle cx="247.7" cy="342.4" r="2.4"/>
<circle cx="248.2" cy="344.3" r="2.4"/>
<circle cx="248.5" cy="345.6" r="2.4"/>
<circle cx="248.2" cy="348.0" r="2.4"/>
<circle cx="247.5" cy="348.0" r="2.4"/>
<circle cx="247.6" cy="349.9" r="2.4"/>
<circle cx="245.6" cy="351.6" r="2.4"/>
<circle cx="247.0" cy="352.6" r="2.4"/>
<circle cx="247.0" cy="354.3" r="2.4"/>
<circle cx="247.4" cy="355.7" r="2.4"/>
<circle cx="244.7" cy="357.4" r="2.4"/>
<circle cx="244.3" cy="358.5" r="2.4"/>
<circle cx="292.0" cy="168.5" r="2.4"/>
<circle cx="293.3" cy="170.6" r="2.4"/>
<circle cx="293.5" cy="172.7" r="2.4"/>
<circle cx="292.3" cy="175.8" r="2.4"/>
<circle cx="292.1" cy="178.9" r="2.4"/>
<circle cx="291.6" cy="181.7" r="2.4"/>
<circle cx="293.4" cy="184.8" r="2.4"/>
<circle cx="290.8" cy="187.9" r="2.4"/>
<circle cx="289.4" cy="190.2" r="2.4"/>
<circle cx="287.0" cy="193.5" r="2.4"/>
<circle cx="286.4" cy="194.8" r="2.4"/>
<circle cx="284.6" cy="195.7" r="2.4"/>
<circle cx="284.3" cy="198.5" r="2.4"/>
<circle cx="282.0" cy="199.4" r="2.4"/>
<circle cx="281.3" cy="201.3" r="2.4"/>
<circle cx="281.1" cy="204.2" r="2.4"/>
<circle cx="280.4" cy="207.5" r="2.4"/>
<circle cx="279.0" cy="209.1" r="2.4"/>
<circle cx="278.5" cy="212.2" r="2.4"/>
<circle cx="275.7" cy="213.3" r="2.4"/>
<circle cx="276.4" cy="216.0" r="2.4"/>
<circle cx="273.5" cy="219.0" r="2.4"/>
<circle cx="272.3" cy="222.2" r="2.4"/>
<circle cx="271.0" cy="227.7" r="2.4"/>
<circle cx="270.7" cy="229.4" r="2.4"/>
<circle cx="270.1" cy="231.6" r="2.4"/>
<circle cx="268.5" cy="232.7" r="2.4"/>
<circle cx="268.9" cy="234.8" r="2.4"/>
<circle cx="267.7" cy="238.8" r="2.4"/>
<circle cx="266.6" cy="240.0" r="2.4"/>
<circle cx="267.0" cy="242.3" r="2.4"/>
<circle cx="265.3" cy="245.3" r="2.4"/>
<circle cx="264.8" cy="247.2" r="2.4"/>
<circle cx="263.3" cy="248.6" r="2.4"/>
<circle cx="264.1" cy="251.5" r="2.4"/>
<circle cx="264.0" cy="255.0" r="2.4"/>
<circle cx="262.4" cy="257.9" r="2.4"/>
<circle cx="262.6" cy="260.5" r="2.4"/>
<circle cx="263.9" cy="265.0" r="2.4"/>
<circle cx="263.8" cy="266.8" r="2.4"/>
<circle cx="262.9" cy="271.1" r="2.4"/>
<circle cx="262.2" cy="272.7" r="2.4"/>
<circle cx="261.5" cy="276.5" r="2.4"/>
<circle cx="260.5" cy="277.6" r="2.4"/>
<circle cx="259.4" cy="279.2" r="2.4"/>
<circle cx="259.1" cy="282.0" r="2.4"/>
<circle cx="259.6" cy="284.4" r="2.4"/>
<circle cx="258.0" cy="288.2" r="2.4"/>
<circle cx="257.1" cy="289.3" r="2.4"/>
<circle cx="257.6" cy="291.9" r="2.4"/>
<circle cx="257.1" cy="294.5" r="2.4"/>
<circle cx="256.2" cy="296.9" r="2.4"/>
<circle cx="254.6" cy="299.8" r="2.4"/>
<circle cx="256.0" cy="300.5" r="2.4"/>
<circle cx="254.7" cy="303.8" r="2.4"/>
<circle cx="254.3" cy="306.8" r="2.4"/>
<circle cx="253.7" cy="308.2" r="2.4"/>
<circle cx="254.7" cy="312.8" r="2.4"/>
<circle cx="252.9" cy="314.1" r="2.4"/>
<circle cx="253.7" cy="316.3" r="2.4"/>
<circle cx="252.7" cy="318.0" r="2.4"/>
<circle cx="251.6" cy="320.3" r="2.4"/>
<circle cx="250.7" cy="324.3" r="2.4"/>
<circle cx="250.5" cy="326.4" r="2.4"/>
<circle cx="250.9" cy="329.1" r="2.4"/>
<circle cx="249.8" cy="330.8" r="2.4"/>
<circle cx="248.2" cy="333.8" r="2.4"/>
<circle cx="248.6" cy="337.3" r="2.4"/>
<circle cx="246.7" cy="339.0" r="2.4"/>
<circle cx="246.8" cy="343.1" r="2.4"/>
<circle cx="246.7" cy="345.4" r="2.4"/>
<circle cx="245.4" cy="350.1" r="2.4"/>
<circle cx="244.2" cy="352.7" r="2.4"/>
<circle cx="244.6" cy="354.5" r="2.4"/>
<circle cx="243.9" cy="358.2" r="2.4"/>
<circle cx="289.5" cy="166.4" r="2.4"/>
<circle cx="288.9" cy="177.2" r="2.4"/>
<circle cx="284.0" cy="192.5" r="2.4"/>
<circle cx="280.8" cy="198.3" r="2.4"/>
<circle cx="278.5" cy="204.3" r="2.4"/>
<circle cx="273.2" cy="213.7" r="2.4"/>
<circle cx="270.8" cy="220.7" r="2.4"/>
<circle cx="268.9" cy="227.6" r="2.4"/>
<circle cx="266.3" cy="232.6" r="2.4"/>
<circle cx="262.4" cy="243.9" r="2.4"/>
<circle cx="260.0" cy="249.8" r="2.4"/>
<circle cx="259.4" cy="256.3" r="2.4"/>
<circle cx="261.0" cy="263.9" r="2.4"/>
<circle cx="260.7" cy="270.9" r="2.4"/>
<circle cx="258.8" cy="278.7" r="2.4"/>
<circle cx="255.7" cy="286.7" r="2.4"/>
<circle cx="252.3" cy="291.2" r="2.4"/>
<circle cx="252.4" cy="297.7" r="2.4"/>
<circle cx="253.4" cy="306.5" r="2.4"/>
<circle cx="251.2" cy="311.7" r="2.4"/>
<circle cx="247.7" cy="324.3" r="2.4"/>
<circle cx="244.9" cy="335.5" r="2.4"/>
<circle cx="246.2" cy="338.9" r="2.4"/>
<circle cx="243.4" cy="349.0" r="2.4"/>
<circle cx="341.1" cy="167.0" r="2.4"/>
<circle cx="341.1" cy="169.5" r="2.4"/>
<circle cx="339.1" cy="171.2" r="2.4"/>
<circle cx="339.9" cy="171.7" r="2.4"/>
<circle cx="341.6" cy="172.1" r="2.4"/>
<circle cx="340.9" cy="173.7" r="2.4"/>
<circle cx="341.8" cy="175.6" r="2.4"/>
<circle cx="341.2" cy="176.9" r="2.4"/>
<circle cx="340.7" cy="178.0" r="2.4"/>
<circle cx="342.1" cy="178.0" r="2.4"/>
<circle cx="343.3" cy="178.9" r="2.4"/>
<circle cx="341.6" cy="180.2" r="2.4"/>
<circle cx="340.6" cy="183.0" r="2.4"/>
<circle cx="343.4" cy="183.5" r="2.4"/>
<circle cx="343.2" cy="184.8" r="2.4"/>
<circle cx="342.3" cy="186.1" r="2.4"/>
<circle cx="344.6" cy="187.3" r="2.4"/>
<circle cx="343.6" cy="189.4" r="2.4"/>
<circle cx="342.8" cy="190.0" r="2.4"/>
<circle cx="344.5" cy="192.2" r="2.4"/>
<circle cx="346.3" cy="193.4" r="2.4"/>
<circle cx="346.0" cy="195.1" r="2.4"/>
<circle cx="346.3" cy="195.6" r="2.4"/>
<circle cx="346.4" cy="197.2" r="2.4"/>
<circle cx="346.8" cy="197.4" r="2.4"/>
<circle cx="347.8" cy="197.8" r="2.4"/>
<circle cx="346.5" cy="199.1" r="2.4"/>
<circle cx="346.7" cy="201.3" r="2.4"/>
<circle cx="347.5" cy="202.4" r="2.4"/>
<circle cx="346.2" cy="203.2" r="2.4"/>
<circle cx="348.0" cy="204.5" r="2.4"/>
<circle cx="347.3" cy="206.3" r="2.4"/>
<circle cx="347.7" cy="208.3" r="2.4"/>
<circle cx="347.9" cy="209.7" r="2.4"/>
<circle cx="349.1" cy="210.4" r="2.4"/>
<circle cx="348.7" cy="210.5" r="2.4"/>
<circle cx="350.7" cy="212.2" r="2.4"/>
<circle cx="350.5" cy="213.1" r="2.4"/>
<circle cx="350.7" cy="214.9" r="2.4"/>
<circle cx="350.0" cy="216.8" r="2.4"/>
<circle cx="351.1" cy="219.4" r="2.4"/>
<circle cx="351.8" cy="219.0" r="2.4"/>
<circle cx="350.6" cy="220.2" r="2.4"/>
<circle cx="350.4" cy="222.1" r="2.4"/>
<circle cx="351.6" cy="224.4" r="2.4"/>
<circle cx="352.5" cy="226.5" r="2.4"/>
<circle cx="351.4" cy="228.1" r="2.4"/>
<circle cx="353.7" cy="228.8" r="2.4"/>
<circle cx="351.7" cy="230.3" r="2.4"/>
<circle cx="354.9" cy="231.8" r="2.4"/>
<circle cx="353.7" cy="231.9" r="2.4"/>
<circle cx="354.7" cy="233.1" r="2.4"/>
<circle cx="354.6" cy="235.1" r="2.4"/>
<circle cx="354.2" cy="237.2" r="2.4"/>
<circle cx="353.0" cy="237.5" r="2.4"/>
<circle cx="355.6" cy="238.1" r="2.4"/>
<circle cx="354.3" cy="240.6" r="2.4"/>
<circle cx="354.0" cy="242.1" r="2.4"/>
<circle cx="356.2" cy="243.0" r="2.4"/>
<circle cx="354.0" cy="244.4" r="2.4"/>
<circle cx="356.0" cy="245.9" r="2.4"/>
<circle cx="354.5" cy="246.7" r="2.4"/>
<circle cx="357.1" cy="248.2" r="2.4"/>
<circle cx="355.7" cy="250.5" r="2.4"/>
<circle cx="357.3" cy="250.7" r="2.4"/>
<circle cx="356.1" cy="253.2" r="2.4"/>
<circle cx="355.5" cy="253.5" r="2.4"/>
<circle cx="357.1" cy="255.2" r="2.4"/>
<circle cx="356.7" cy="255.5" r="2.4"/>
<circle cx="356.8" cy="256.9" r="2.4"/>
<circle cx="359.1" cy="258.0" r="2.4"/>
<circle cx="358.1" cy="259.4" r="2.4"/>
<circle cx="357.6" cy="260.5" r="2.4"/>
<circle cx="357.9" cy="263.0" r="2.4"/>
<circle cx="356.2" cy="264.3" r="2.4"/>
<circle cx="359.3" cy="266.0" r="2.4"/>
<circle cx="358.5" cy="266.8" r="2.4"/>
<circle cx="359.2" cy="268.7" r="2.4"/>
<circle cx="357.4" cy="269.1" r="2.4"/>
<circle cx="358.0" cy="270.5" r="2.4"/>
<circle cx="358.1" cy="271.3" r="2.4"/>
<circle cx="357.4" cy="272.0" r="2.4"/>
<circle cx="357.8" cy="273.9" r="2.4"/>
<circle cx="356.9" cy="274.8" r="2.4"/>
<circle cx="356.0" cy="276.5" r="2.4"/>
<circle cx="357.5" cy="277.4" r="2.4"/>
<circle cx="356.6" cy="277.6" r="2.4"/>
<circle cx="357.0" cy="279.8" r="2.4"/>
<circle cx="359.1" cy="280.6" r="2.4"/>
<circle cx="357.8" cy="281.9" r="2.4"/>
<circle cx="357.7" cy="284.3" r="2.4"/>
<circle cx="358.4" cy="284.6" r="2.4"/>
<circle cx="357.6" cy="287.6" r="2.4"/>
<circle cx="356.7" cy="287.4" r="2.4"/>
<circle cx="357.2" cy="289.4" r="2.4"/>
<circle cx="357.7" cy="289.5" r="2.4"/>
<circle cx="359.7" cy="291.2" r="2.4"/>
<circle cx="359.6" cy="292.8" r="2.4"/>
<circle cx="357.6" cy="294.4" r="2.4"/>
<circle cx="358.6" cy="294.8" r="2.4"/>
<circle cx="359.7" cy="296.8" r="2.4"/>
<circle cx="361.1" cy="296.9" r="2.4"/>
<circle cx="360.9" cy="298.8" r="2.4"/>
<circle cx="359.7" cy="299.8" r="2.4"/>
<circle cx="359.5" cy="302.1" r="2.4"/>
<circle cx="361.3" cy="302.6" r="2.4"/>
<circle cx="361.2" cy="302.7" r="2.4"/>
<circle cx="362.7" cy="305.7" r="2.4"/>
<circle cx="363.0" cy="306.0" r="2.4"/>
<circle cx="361.4" cy="306.9" r="2.4"/>
<circle cx="363.9" cy="306.8" r="2.4"/>
<circle cx="363.6" cy="309.4" r="2.4"/>
<circle cx="364.5" cy="310.8" r="2.4"/>
<circle cx="364.3" cy="312.5" r="2.4"/>
<circle cx="366.4" cy="313.4" r="2.4"/>
<circle cx="366.9" cy="314.8" r="2.4"/>
<circle cx="365.5" cy="315.9" r="2.4"/>
<circle cx="365.4" cy="316.9" r="2.4"/>
<circle cx="368.0" cy="318.6" r="2.4"/>
<circle cx="369.2" cy="318.4" r="2.4"/>
<circle cx="366.7" cy="320.7" r="2.4"/>
<circle cx="367.3" cy="322.3" r="2.4"/>
<circle cx="368.4" cy="324.1" r="2.4"/>
<circle cx="368.3" cy="324.1" r="2.4"/>
<circle cx="368.8" cy="324.8" r="2.4"/>
<circle cx="369.3" cy="327.9" r="2.4"/>
<circle cx="370.7" cy="328.1" r="2.4"/>
<circle cx="370.2" cy="329.7" r="2.4"/>
<circle cx="369.1" cy="332.2" r="2.4"/>
<circle cx="371.0" cy="332.4" r="2.4"/>
<circle cx="369.1" cy="334.5" r="2.4"/>
<circle cx="372.3" cy="336.0" r="2.4"/>
<circle cx="369.9" cy="336.5" r="2.4"/>
<circle cx="370.1" cy="338.1" r="2.4"/>
<circle cx="371.9" cy="339.5" r="2.4"/>
<circle cx="370.9" cy="342.0" r="2.4"/>
<circle cx="373.4" cy="343.0" r="2.4"/>
<circle cx="373.2" cy="344.0" r="2.4"/>
<circle cx="371.9" cy="344.8" r="2.4"/>
<circle cx="371.7" cy="346.9" r="2.4"/>
<circle cx="373.0" cy="347.9" r="2.4"/>
<circle cx="372.6" cy="350.2" r="2.4"/>
<circle cx="374.8" cy="350.9" r="2.4"/>
<circle cx="375.8" cy="351.5" r="2.4"/>
<circle cx="373.4" cy="354.2" r="2.4"/>
<circle cx="375.9" cy="352.9" r="2.4"/>
<circle cx="373.7" cy="355.3" r="2.4"/>
<circle cx="374.2" cy="356.9" r="2.4"/>
<circle cx="377.1" cy="358.7" r="2.4"/>
<circle cx="340.9" cy="167.0" r="2.4"/>
<circle cx="340.8" cy="169.6" r="2.4"/>
<circle cx="342.0" cy="170.8" r="2.4"/>
<circle cx="343.7" cy="172.5" r="2.4"/>
<circle cx="342.2" cy="176.5" r="2.4"/>
<circle cx="343.2" cy="177.7" r="2.4"/>
<circle cx="343.2" cy="181.6" r="2.4"/>
<circle cx="343.5" cy="183.6" r="2.4"/>
<circle cx="345.8" cy="185.8" r="2.4"/>
<circle cx="346.7" cy="189.1" r="2.4"/>
<circle cx="345.5" cy="190.9" r="2.4"/>
<circle cx="345.8" cy="193.0" r="2.4"/>
<circle cx="347.6" cy="194.8" r="2.4"/>
<circle cx="348.5" cy="196.6" r="2.4"/>
<circle cx="349.5" cy="200.5" r="2.4"/>
<circle cx="350.0" cy="202.9" r="2.4"/>
<circle cx="350.0" cy="206.1" r="2.4"/>
<circle cx="350.2" cy="207.5" r="2.4"/>
<circle cx="351.9" cy="208.4" r="2.4"/>
<circle cx="352.3" cy="211.6" r="2.4"/>
<circle cx="351.6" cy="214.6" r="2.4"/>
<circle cx="351.6" cy="217.6" r="2.4"/>
<circle cx="353.8" cy="219.2" r="2.4"/>
<circle cx="353.2" cy="223.3" r="2.4"/>
<circle cx="355.0" cy="224.2" r="2.4"/>
<circle cx="355.5" cy="228.1" r="2.4"/>
<circle cx="356.2" cy="230.4" r="2.4"/>
<circle cx="356.2" cy="233.5" r="2.4"/>
<circle cx="356.0" cy="236.9" r="2.4"/>
<circle cx="357.2" cy="239.2" r="2.4"/>
<circle cx="357.4" cy="242.0" r="2.4"/>
<circle cx="357.5" cy="245.9" r="2.4"/>
<circle cx="358.9" cy="247.6" r="2.4"/>
<circle cx="358.1" cy="249.8" r="2.4"/>
<circle cx="359.0" cy="251.6" r="2.4"/>
<circle cx="358.5" cy="254.3" r="2.4"/>
<circle cx="359.3" cy="258.3" r="2.4"/>
<circle cx="360.6" cy="261.8" r="2.4"/>
<circle cx="359.5" cy="263.5" r="2.4"/>
<circle cx="359.0" cy="265.7" r="2.4"/>
<circle cx="359.7" cy="268.7" r="2.4"/>
<circle cx="359.9" cy="270.2" r="2.4"/>
<circle cx="361.0" cy="273.6" r="2.4"/>
<circle cx="359.7" cy="276.2" r="2.4"/>
<circle cx="358.8" cy="279.1" r="2.4"/>
<circle cx="359.6" cy="280.7" r="2.4"/>
<circle cx="359.1" cy="283.3" r="2.4"/>
<circle cx="358.7" cy="285.2" r="2.4"/>
<circle cx="359.9" cy="286.4" r="2.4"/>
<circle cx="359.4" cy="289.7" r="2.4"/>
<circle cx="360.7" cy="291.3" r="2.4"/>
<circle cx="360.6" cy="293.2" r="2.4"/>
<circle cx="360.8" cy="294.9" r="2.4"/>
<circle cx="361.5" cy="298.3" r="2.4"/>
<circle cx="362.9" cy="300.1" r="2.4"/>
<circle cx="362.9" cy="302.1" r="2.4"/>
<circle cx="363.9" cy="306.1" r="2.4"/>
<circle cx="365.2" cy="308.4" r="2.4"/>
<circle cx="365.4" cy="310.9" r="2.4"/>
<circle cx="367.5" cy="313.7" r="2.4"/>
<circle cx="367.5" cy="316.5" r="2.4"/>
<circle cx="369.5" cy="318.9" r="2.4"/>
<circle cx="370.5" cy="321.2" r="2.4"/>
<circle cx="371.2" cy="322.9" r="2.4"/>
<circle cx="372.6" cy="325.7" r="2.4"/>
<circle cx="372.6" cy="327.6" r="2.4"/>
<circle cx="373.0" cy="330.0" r="2.4"/>
<circle cx="371.5" cy="333.3" r="2.4"/>
<circle cx="371.7" cy="335.0" r="2.4"/>
<circle cx="373.4" cy="337.8" r="2.4"/>
<circle cx="372.5" cy="340.6" r="2.4"/>
<circle cx="374.3" cy="343.2" r="2.4"/>
<circle cx="375.4" cy="344.9" r="2.4"/>
<circle cx="375.0" cy="347.1" r="2.4"/>
<circle cx="375.3" cy="351.2" r="2.4"/>
<circle cx="377.5" cy="353.2" r="2.4"/>
<circle cx="377.0" cy="355.2" r="2.4"/>
<circle cx="379.1" cy="358.1" r="2.4"/>
<circle cx="343.4" cy="167.9" r="2.4"/>
<circle cx="345.8" cy="178.6" r="2.4"/>
<circle cx="348.9" cy="192.0" r="2.4"/>
<circle cx="353.1" cy="206.2" r="2.4"/>
<circle cx="354.8" cy="215.1" r="2.4"/>
<circle cx="356.5" cy="227.7" r="2.4"/>
<circle cx="359.4" cy="235.6" r="2.4"/>
<circle cx="360.7" cy="246.5" r="2.4"/>
<circle cx="360.6" cy="258.7" r="2.4"/>
<circle cx="363.9" cy="267.9" r="2.4"/>
<circle cx="361.2" cy="279.9" r="2.4"/>
<circle cx="363.7" cy="294.0" r="2.4"/>
<circle cx="364.8" cy="301.4" r="2.4"/>
<circle cx="369.1" cy="306.4" r="2.4"/>
<circle cx="370.8" cy="312.0" r="2.4"/>
<circle cx="373.4" cy="319.8" r="2.4"/>
<circle cx="373.8" cy="330.2" r="2.4"/>
<circle cx="376.6" cy="336.7" r="2.4"/>
<circle cx="377.4" cy="344.6" r="2.4"/>
<circle cx="380.0" cy="350.6" r="2.4"/>
<circle cx="450.1" cy="337.1" r="2.4"/>
<circle cx="451.4" cy="338.4" r="2.4"/>
<circle cx="450.0" cy="339.8" r="2.4"/>
<circle cx="448.9" cy="340.6" r="2.4"/>
<circle cx="448.2" cy="340.8" r="2.4"/>
<circle cx="447.0" cy="341.8" r="2.4"/>
<circle cx="447.4" cy="343.1" r="2.4"/>
<circle cx="446.2" cy="344.3" r="2.4"/>
<circle cx="446.7" cy="346.8" r="2.4"/>
<circle cx="445.1" cy="347.6" r="2.4"/>
<circle cx="444.6" cy="350.0" r="2.4"/>
<circle cx="443.9" cy="351.8" r="2.4"/>
<circle cx="442.6" cy="352.3" r="2.4"/>
<circle cx="441.5" cy="352.6" r="2.4"/>
<circle cx="442.4" cy="353.5" r="2.4"/>
<circle cx="441.8" cy="356.2" r="2.4"/>
<circle cx="441.7" cy="357.1" r="2.4"/>
<circle cx="440.0" cy="357.8" r="2.4"/>
<circle cx="440.0" cy="358.3" r="2.4"/>
<circle cx="451.0" cy="337.2" r="2.4"/>
<circle cx="453.0" cy="337.2" r="2.4"/>
<circle cx="141.8" cy="80.4" r="2.4"/>
<circle cx="149.2" cy="80.5" r="2.4"/>
<circle cx="152.4" cy="80.2" r="2.4"/>
<circle cx="112.5" cy="81.6" r="2.4"/>
<circle cx="118.8" cy="81.4" r="2.4"/>
<circle cx="144.3" cy="82.0" r="2.4"/>
<circle cx="115.6" cy="83.1" r="2.4"/>
<circle cx="132.0" cy="83.9" r="2.4"/>
<circle cx="145.5" cy="83.4" r="2.4"/>
<circle cx="108.7" cy="84.6" r="2.4"/>
<circle cx="115.1" cy="84.1" r="2.4"/>
<circle cx="121.2" cy="84.7" r="2.4"/>
<circle cx="149.1" cy="84.3" r="2.4"/>
<circle cx="136.6" cy="85.5" r="2.4"/>
<circle cx="141.4" cy="85.7" r="2.4"/>
<circle cx="118.2" cy="86.5" r="2.4"/>
<circle cx="143.4" cy="86.8" r="2.4"/>
<circle cx="147.5" cy="86.9" r="2.4"/>
<circle cx="151.7" cy="86.3" r="2.4"/>
<circle cx="152.4" cy="86.1" r="2.4"/>
<circle cx="154.3" cy="86.5" r="2.4"/>
<circle cx="107.6" cy="87.1" r="2.4"/>
<circle cx="119.6" cy="87.0" r="2.4"/>
<circle cx="122.4" cy="87.7" r="2.4"/>
<circle cx="134.3" cy="87.1" r="2.4"/>
<circle cx="110.0" cy="88.0" r="2.4"/>
<circle cx="120.0" cy="88.3" r="2.4"/>
<circle cx="140.7" cy="88.7" r="2.4"/>
<circle cx="149.0" cy="88.5" r="2.4"/>
<circle cx="151.6" cy="88.7" r="2.4"/>
<circle cx="153.7" cy="88.5" r="2.4"/>
<circle cx="154.1" cy="88.6" r="2.4"/>
<circle cx="122.5" cy="89.0" r="2.4"/>
<circle cx="134.0" cy="89.9" r="2.4"/>
<circle cx="140.9" cy="89.9" r="2.4"/>
<circle cx="142.8" cy="89.2" r="2.4"/>
<circle cx="152.6" cy="89.1" r="2.4"/>
<circle cx="114.6" cy="90.5" r="2.4"/>
<circle cx="119.9" cy="90.5" r="2.4"/>
<circle cx="123.5" cy="90.0" r="2.4"/>
<circle cx="135.5" cy="90.8" r="2.4"/>
<circle cx="144.9" cy="90.1" r="2.4"/>
<circle cx="110.5" cy="91.8" r="2.4"/>
<circle cx="133.0" cy="91.8" r="2.4"/>
<circle cx="141.6" cy="91.3" r="2.4"/>
<circle cx="155.0" cy="91.2" r="2.4"/>
<circle cx="108.0" cy="92.7" r="2.4"/>
<circle cx="118.5" cy="92.2" r="2.4"/>
<circle cx="126.9" cy="92.0" r="2.4"/>
<circle cx="137.1" cy="92.4" r="2.4"/>
<circle cx="141.7" cy="92.3" r="2.4"/>
<circle cx="143.6" cy="92.2" r="2.4"/>
<circle cx="148.0" cy="92.9" r="2.4"/>
<circle cx="155.8" cy="92.3" r="2.4"/>
<circle cx="109.8" cy="93.8" r="2.4"/>
<circle cx="134.4" cy="93.8" r="2.4"/>
<circle cx="136.2" cy="93.1" r="2.4"/>
<circle cx="138.9" cy="93.4" r="2.4"/>
<circle cx="144.1" cy="93.4" r="2.4"/>
<circle cx="147.0" cy="93.7" r="2.4"/>
<circle cx="152.7" cy="93.5" r="2.4"/>
<circle cx="113.2" cy="94.3" r="2.4"/>
<circle cx="121.4" cy="94.5" r="2.4"/>
<circle cx="122.2" cy="94.7" r="2.4"/>
<circle cx="139.0" cy="94.0" r="2.4"/>
<circle cx="148.7" cy="94.2" r="2.4"/>
<circle cx="117.1" cy="95.1" r="2.4"/>
<circle cx="119.4" cy="95.2" r="2.4"/>
<circle cx="132.0" cy="95.1" r="2.4"/>
<circle cx="143.7" cy="95.1" r="2.4"/>
<circle cx="144.1" cy="95.2" r="2.4"/>
<circle cx="153.0" cy="95.6" r="2.4"/>
<circle cx="110.7" cy="96.5" r="2.4"/>
<circle cx="118.5" cy="96.6" r="2.4"/>
<circle cx="122.2" cy="96.6" r="2.4"/>
<circle cx="143.9" cy="96.4" r="2.4"/>
<circle cx="146.4" cy="96.9" r="2.4"/>
<circle cx="153.4" cy="96.1" r="2.4"/>
<circle cx="123.3" cy="97.7" r="2.4"/>
<circle cx="124.8" cy="97.1" r="2.4"/>
<circle cx="127.0" cy="97.2" r="2.4"/>
<circle cx="129.9" cy="97.9" r="2.4"/>
<circle cx="138.8" cy="97.1" r="2.4"/>
<circle cx="140.4" cy="97.6" r="2.4"/>
<circle cx="148.9" cy="97.6" r="2.4"/>
<circle cx="155.4" cy="97.1" r="2.4"/>
<circle cx="124.5" cy="98.2" r="2.4"/>
<circle cx="144.4" cy="98.0" r="2.4"/>
<circle cx="145.3" cy="98.1" r="2.4"/>
<circle cx="150.3" cy="98.5" r="2.4"/>
<circle cx="154.8" cy="98.3" r="2.4"/>
<circle cx="124.7" cy="99.9" r="2.4"/>
<circle cx="129.5" cy="99.7" r="2.4"/>
<circle cx="131.2" cy="99.0" r="2.4"/>
<circle cx="133.0" cy="99.7" r="2.4"/>
<circle cx="134.8" cy="99.1" r="2.4"/>
<circle cx="143.0" cy="99.9" r="2.4"/>
<circle cx="144.0" cy="99.7" r="2.4"/>
<circle cx="154.0" cy="99.9" r="2.4"/>
<circle cx="155.6" cy="99.3" r="2.4"/>
<circle cx="122.5" cy="100.6" r="2.4"/>
<circle cx="133.0" cy="100.9" r="2.4"/>
<circle cx="149.3" cy="100.3" r="2.4"/>
<circle cx="155.7" cy="100.7" r="2.4"/>
<circle cx="109.6" cy="101.5" r="2.4"/>
<circle cx="118.1" cy="101.0" r="2.4"/>
<circle cx="120.8" cy="101.7" r="2.4"/>
<circle cx="136.3" cy="101.8" r="2.4"/>
<circle cx="147.7" cy="101.0" r="2.4"/>
<circle cx="152.3" cy="101.8" r="2.4"/>
<circle cx="137.2" cy="102.8" r="2.4"/>
<circle cx="152.7" cy="102.3" r="2.4"/>
<circle cx="122.7" cy="103.4" r="2.4"/>
<circle cx="122.8" cy="103.7" r="2.4"/>
<circle cx="138.9" cy="103.3" r="2.4"/>
<circle cx="149.9" cy="103.0" r="2.4"/>
<circle cx="113.6" cy="104.7" r="2.4"/>
<circle cx="135.6" cy="104.8" r="2.4"/>
<circle cx="136.1" cy="104.4" r="2.4"/>
<circle cx="110.9" cy="105.0" r="2.4"/>
<circle cx="115.0" cy="105.7" r="2.4"/>
<circle cx="121.7" cy="105.4" r="2.4"/>
<circle cx="126.6" cy="105.7" r="2.4"/>
<circle cx="128.8" cy="105.1" r="2.4"/>
<circle cx="130.4" cy="105.6" r="2.4"/>
<circle cx="130.9" cy="105.1" r="2.4"/>
<circle cx="146.1" cy="105.7" r="2.4"/>
<circle cx="147.3" cy="105.6" r="2.4"/>
<circle cx="148.2" cy="105.7" r="2.4"/>
<circle cx="114.5" cy="106.7" r="2.4"/>
<circle cx="116.5" cy="106.4" r="2.4"/>
<circle cx="143.7" cy="106.7" r="2.4"/>
<circle cx="144.5" cy="106.5" r="2.4"/>
<circle cx="149.5" cy="106.1" r="2.4"/>
<circle cx="151.6" cy="106.4" r="2.4"/>
<circle cx="107.2" cy="107.7" r="2.4"/>
<circle cx="124.5" cy="107.1" r="2.4"/>
<circle cx="126.7" cy="107.5" r="2.4"/>
<circle cx="128.4" cy="107.3" r="2.4"/>
<circle cx="131.2" cy="107.0" r="2.4"/>
<circle cx="134.2" cy="107.4" r="2.4"/>
<circle cx="140.5" cy="107.1" r="2.4"/>
<circle cx="110.6" cy="108.8" r="2.4"/>
<circle cx="136.3" cy="108.9" r="2.4"/>
<circle cx="139.9" cy="108.1" r="2.4"/>
<circle cx="108.7" cy="109.5" r="2.4"/>
<circle cx="119.8" cy="109.4" r="2.4"/>
<circle cx="124.1" cy="109.9" r="2.4"/>
<circle cx="126.9" cy="109.1" r="2.4"/>
<circle cx="129.6" cy="109.2" r="2.4"/>
<circle cx="136.5" cy="109.9" r="2.4"/>
<circle cx="137.5" cy="109.2" r="2.4"/>
<circle cx="138.1" cy="109.6" r="2.4"/>
<circle cx="144.4" cy="109.5" r="2.4"/>
<circle cx="147.9" cy="109.1" r="2.4"/>
<circle cx="151.2" cy="109.5" r="2.4"/>
<circle cx="154.8" cy="109.4" r="2.4"/>
<circle cx="112.2" cy="110.3" r="2.4"/>
<circle cx="122.8" cy="110.3" r="2.4"/>
<circle cx="124.4" cy="110.4" r="2.4"/>
<circle cx="135.8" cy="110.8" r="2.4"/>
<circle cx="140.2" cy="110.3" r="2.4"/>
<circle cx="141.5" cy="110.7" r="2.4"/>
<circle cx="147.6" cy="110.0" r="2.4"/>
<circle cx="151.4" cy="110.9" r="2.4"/>
<circle cx="110.2" cy="111.9" r="2.4"/>
<circle cx="112.2" cy="111.4" r="2.4"/>
<circle cx="123.4" cy="111.6" r="2.4"/>
<circle cx="126.4" cy="111.8" r="2.4"/>
<circle cx="127.0" cy="111.0" r="2.4"/>
<circle cx="136.8" cy="111.7" r="2.4"/>
<circle cx="140.6" cy="111.7" r="2.4"/>
<circle cx="141.1" cy="111.6" r="2.4"/>
<circle cx="141.7" cy="111.3" r="2.4"/>
<circle cx="149.1" cy="112.0" r="2.4"/>
<circle cx="107.5" cy="113.7" r="2.4"/>
<circle cx="132.6" cy="113.4" r="2.4"/>
<circle cx="136.1" cy="113.3" r="2.4"/>
<circle cx="137.1" cy="113.7" r="2.4"/>
<circle cx="142.4" cy="113.6" r="2.4"/>
<circle cx="151.0" cy="113.6" r="2.4"/>
<circle cx="153.9" cy="113.3" r="2.4"/>
<circle cx="108.7" cy="114.2" r="2.4"/>
<circle cx="113.5" cy="114.8" r="2.4"/>
<circle cx="118.1" cy="114.2" r="2.4"/>
<circle cx="125.0" cy="114.7" r="2.4"/>
<circle cx="128.2" cy="114.2" r="2.4"/>
<circle cx="128.8" cy="114.0" r="2.4"/>
<circle cx="149.6" cy="114.3" r="2.4"/>
<circle cx="150.3" cy="114.5" r="2.4"/>
<circle cx="119.9" cy="115.9" r="2.4"/>
<circle cx="131.3" cy="115.1" r="2.4"/>
<circle cx="135.2" cy="115.6" r="2.4"/>
<circle cx="136.0" cy="115.6" r="2.4"/>
<circle cx="151.3" cy="115.0" r="2.4"/>
<circle cx="110.6" cy="116.4" r="2.4"/>
<circle cx="118.0" cy="116.0" r="2.4"/>
<circle cx="119.3" cy="116.1" r="2.4"/>
<circle cx="134.6" cy="116.5" r="2.4"/>
<circle cx="137.4" cy="116.4" r="2.4"/>
<circle cx="154.4" cy="116.7" r="2.4"/>
<circle cx="122.0" cy="117.6" r="2.4"/>
<circle cx="128.5" cy="117.2" r="2.4"/>
<circle cx="133.5" cy="117.2" r="2.4"/>
<circle cx="142.1" cy="117.5" r="2.4"/>
<circle cx="142.9" cy="117.8" r="2.4"/>
<circle cx="144.9" cy="117.5" r="2.4"/>
<circle cx="146.2" cy="117.5" r="2.4"/>
<circle cx="150.6" cy="117.1" r="2.4"/>
<circle cx="151.4" cy="117.5" r="2.4"/>
<circle cx="112.3" cy="118.6" r="2.4"/>
<circle cx="116.5" cy="118.8" r="2.4"/>
<circle cx="116.9" cy="118.0" r="2.4"/>
<circle cx="119.2" cy="118.2" r="2.4"/>
<circle cx="124.9" cy="118.0" r="2.4"/>
<circle cx="127.4" cy="118.7" r="2.4"/>
<circle cx="130.4" cy="118.4" r="2.4"/>
<circle cx="134.6" cy="118.5" r="2.4"/>
<circle cx="140.1" cy="118.8" r="2.4"/>
<circle cx="149.0" cy="118.8" r="2.4"/>
<circle cx="151.3" cy="118.6" r="2.4"/>
<circle cx="154.0" cy="118.7" r="2.4"/>
<circle cx="156.3" cy="118.6" r="2.4"/>
<circle cx="108.1" cy="119.3" r="2.4"/>
<circle cx="111.3" cy="119.2" r="2.4"/>
<circle cx="116.4" cy="119.0" r="2.4"/>
<circle cx="118.4" cy="119.3" r="2.4"/>
<circle cx="123.2" cy="119.3" r="2.4"/>
<circle cx="134.7" cy="119.4" r="2.4"/>
<circle cx="141.2" cy="119.4" r="2.4"/>
<circle cx="147.1" cy="119.9" r="2.4"/>
<circle cx="151.6" cy="119.1" r="2.4"/>
<circle cx="154.0" cy="119.1" r="2.4"/>
<circle cx="155.8" cy="119.2" r="2.4"/>
<circle cx="106.8" cy="120.1" r="2.4"/>
<circle cx="115.4" cy="120.0" r="2.4"/>
<circle cx="119.7" cy="120.6" r="2.4"/>
<circle cx="132.5" cy="120.4" r="2.4"/>
<circle cx="134.2" cy="120.5" r="2.4"/>
<circle cx="152.5" cy="120.1" r="2.4"/>
<circle cx="155.1" cy="120.7" r="2.4"/>
<circle cx="156.3" cy="120.1" r="2.4"/>
<circle cx="109.9" cy="121.9" r="2.4"/>
<circle cx="141.8" cy="121.5" r="2.4"/>
<circle cx="144.8" cy="121.7" r="2.4"/>
<circle cx="153.1" cy="121.3" r="2.4"/>
<circle cx="154.5" cy="121.3" r="2.4"/>
<circle cx="155.6" cy="121.2" r="2.4"/>
<circle cx="106.8" cy="122.7" r="2.4"/>
<circle cx="116.5" cy="122.0" r="2.4"/>
<circle cx="122.2" cy="122.2" r="2.4"/>
<circle cx="136.0" cy="122.7" r="2.4"/>
<circle cx="146.3" cy="122.8" r="2.4"/>
<circle cx="149.8" cy="122.4" r="2.4"/>
<circle cx="110.1" cy="123.0" r="2.4"/>
<circle cx="128.7" cy="123.0" r="2.4"/>
<circle cx="137.0" cy="123.2" r="2.4"/>
<circle cx="139.2" cy="123.3" r="2.4"/>
<circle cx="142.4" cy="123.8" r="2.4"/>
<circle cx="144.3" cy="123.8" r="2.4"/>
<circle cx="147.5" cy="123.6" r="2.4"/>
<circle cx="115.1" cy="124.5" r="2.4"/>
<circle cx="123.9" cy="124.8" r="2.4"/>
<circle cx="125.4" cy="124.0" r="2.4"/>
<circle cx="144.2" cy="124.7" r="2.4"/>
<circle cx="145.9" cy="124.4" r="2.4"/>
<circle cx="148.5" cy="124.3" r="2.4"/>
<circle cx="150.9" cy="124.1" r="2.4"/>
<circle cx="151.9" cy="124.7" r="2.4"/>
<circle cx="154.4" cy="124.5" r="2.4"/>
<circle cx="155.4" cy="124.8" r="2.4"/>
<circle cx="156.6" cy="124.8" r="2.4"/>
<circle cx="108.4" cy="125.8" r="2.4"/>
<circle cx="109.3" cy="125.7" r="2.4"/>
<circle cx="124.4" cy="125.8" r="2.4"/>
<circle cx="128.3" cy="125.7" r="2.4"/>
<circle cx="129.8" cy="125.7" r="2.4"/>
<circle cx="132.6" cy="125.3" r="2.4"/>
<circle cx="134.6" cy="125.7" r="2.4"/>
<circle cx="136.2" cy="125.0" r="2.4"/>
<circle cx="141.9" cy="125.2" r="2.4"/>
<circle cx="147.9" cy="125.2" r="2.4"/>
<circle cx="150.9" cy="125.2" r="2.4"/>
<circle cx="112.9" cy="126.7" r="2.4"/>
<circle cx="113.9" cy="126.9" r="2.4"/>
<circle cx="120.1" cy="126.7" r="2.4"/>
<circle cx="133.4" cy="126.6" r="2.4"/>
<circle cx="137.3" cy="126.8" r="2.4"/>
<circle cx="144.2" cy="126.7" r="2.4"/>
<circle cx="145.4" cy="126.2" r="2.4"/>
<circle cx="152.5" cy="126.5" r="2.4"/>
<circle cx="121.5" cy="127.3" r="2.4"/>
<circle cx="129.4" cy="127.6" r="2.4"/>
<circle cx="135.9" cy="127.6" r="2.4"/>
<circle cx="137.8" cy="127.0" r="2.4"/>
<circle cx="143.5" cy="127.8" r="2.4"/>
<circle cx="153.3" cy="127.6" r="2.4"/>
<circle cx="155.7" cy="127.2" r="2.4"/>
<circle cx="106.7" cy="128.8" r="2.4"/>
<circle cx="122.2" cy="128.0" r="2.4"/>
<circle cx="132.1" cy="128.2" r="2.4"/>
<circle cx="133.5" cy="128.6" r="2.4"/>
<circle cx="139.8" cy="128.5" r="2.4"/>
<circle cx="141.6" cy="128.3" r="2.4"/>
<circle cx="142.6" cy="128.7" r="2.4"/>
<circle cx="145.0" cy="128.1" r="2.4"/>
<circle cx="146.4" cy="128.2" r="2.4"/>
<circle cx="107.5" cy="129.3" r="2.4"/>
<circle cx="112.0" cy="129.3" r="2.4"/>
<circle cx="113.1" cy="129.2" r="2.4"/>
<circle cx="114.6" cy="129.1" r="2.4"/>
<circle cx="130.1" cy="129.6" r="2.4"/>
<circle cx="131.1" cy="129.8" r="2.4"/>
<circle cx="131.9" cy="129.2" r="2.4"/>
<circle cx="137.8" cy="129.4" r="2.4"/>
<circle cx="139.9" cy="129.0" r="2.4"/>
<circle cx="141.3" cy="129.5" r="2.4"/>
<circle cx="143.0" cy="129.0" r="2.4"/>
<circle cx="145.4" cy="129.7" r="2.4"/>
<circle cx="154.7" cy="129.9" r="2.4"/>
<circle cx="156.0" cy="129.7" r="2.4"/>
<circle cx="108.1" cy="130.1" r="2.4"/>
<circle cx="115.0" cy="130.3" r="2.4"/>
<circle cx="120.6" cy="130.0" r="2.4"/>
<circle cx="127.8" cy="130.7" r="2.4"/>
<circle cx="130.0" cy="130.4" r="2.4"/>
<circle cx="134.0" cy="130.2" r="2.4"/>
<circle cx="134.2" cy="130.9" r="2.4"/>
<circle cx="136.3" cy="130.8" r="2.4"/>
<circle cx="139.5" cy="130.9" r="2.4"/>
<circle cx="140.5" cy="130.0" r="2.4"/>
<circle cx="143.1" cy="130.8" r="2.4"/>
<circle cx="144.8" cy="130.4" r="2.4"/>
<circle cx="146.6" cy="130.8" r="2.4"/>
<circle cx="148.0" cy="130.4" r="2.4"/>
<circle cx="149.6" cy="130.6" r="2.4"/>
<circle cx="155.1" cy="130.3" r="2.4"/>
<circle cx="106.4" cy="131.0" r="2.4"/>
<circle cx="119.4" cy="131.8" r="2.4"/>
<circle cx="122.2" cy="131.1" r="2.4"/>
<circle cx="136.5" cy="131.4" r="2.4"/>
<circle cx="144.0" cy="131.7" r="2.4"/>
<circle cx="149.0" cy="131.8" r="2.4"/>
<circle cx="154.9" cy="131.8" r="2.4"/>
<circle cx="155.3" cy="131.6" r="2.4"/>
<circle cx="112.5" cy="132.9" r="2.4"/>
<circle cx="115.0" cy="132.7" r="2.4"/>
<circle cx="116.8" cy="132.6" r="2.4"/>
<circle cx="121.5" cy="132.4" r="2.4"/>
<circle cx="125.2" cy="132.3" r="2.4"/>
<circle cx="130.7" cy="132.3" r="2.4"/>
<circle cx="135.4" cy="132.6" r="2.4"/>
<circle cx="138.1" cy="132.5" r="2.4"/>
<circle cx="139.3" cy="132.6" r="2.4"/>
<circle cx="146.2" cy="132.4" r="2.4"/>
<circle cx="148.1" cy="132.1" r="2.4"/>
<circle cx="149.3" cy="132.3" r="2.4"/>
<circle cx="112.7" cy="133.3" r="2.4"/>
<circle cx="117.2" cy="133.6" r="2.4"/>
<circle cx="119.6" cy="133.4" r="2.4"/>
<circle cx="120.1" cy="133.2" r="2.4"/>
<circle cx="132.9" cy="133.1" r="2.4"/>
<circle cx="143.8" cy="133.2" r="2.4"/>
<circle cx="145.5" cy="133.3" r="2.4"/>
<circle cx="148.1" cy="133.8" r="2.4"/>
<circle cx="154.8" cy="133.0" r="2.4"/>
<circle cx="157.3" cy="133.9" r="2.4"/>
<circle cx="107.4" cy="134.6" r="2.4"/>
<circle cx="111.0" cy="134.2" r="2.4"/>
<circle cx="118.6" cy="134.0" r="2.4"/>
<circle cx="120.4" cy="134.7" r="2.4"/>
<circle cx="121.1" cy="134.8" r="2.4"/>
<circle cx="123.5" cy="134.7" r="2.4"/>
<circle cx="125.4" cy="134.3" r="2.4"/>
<circle cx="125.9" cy="134.4" r="2.4"/>
<circle cx="127.2" cy="134.5" r="2.4"/>
<circle cx="131.1" cy="134.9" r="2.4"/>
<circle cx="138.0" cy="134.0" r="2.4"/>
<circle cx="143.5" cy="134.7" r="2.4"/>
<circle cx="147.5" cy="134.6" r="2.4"/>
<circle cx="150.6" cy="134.4" r="2.4"/>
<circle cx="115.9" cy="135.9" r="2.4"/>
<circle cx="117.5" cy="135.5" r="2.4"/>
<circle cx="122.6" cy="135.1" r="2.4"/>
<circle cx="123.4" cy="135.6" r="2.4"/>
<circle cx="126.7" cy="135.2" r="2.4"/>
<circle cx="129.2" cy="135.7" r="2.4"/>
<circle cx="130.2" cy="135.9" r="2.4"/>
<circle cx="150.6" cy="135.7" r="2.4"/>
<circle cx="153.0" cy="135.7" r="2.4"/>
<circle cx="105.8" cy="136.0" r="2.4"/>
<circle cx="111.5" cy="136.8" r="2.4"/>
<circle cx="120.8" cy="136.3" r="2.4"/>
<circle cx="122.1" cy="136.9" r="2.4"/>
<circle cx="126.9" cy="136.0" r="2.4"/>
<circle cx="140.1" cy="136.6" r="2.4"/>
<circle cx="141.5" cy="136.8" r="2.4"/>
<circle cx="144.9" cy="136.7" r="2.4"/>
<circle cx="146.6" cy="136.3" r="2.4"/>
<circle cx="150.5" cy="136.3" r="2.4"/>
<circle cx="154.6" cy="136.5" r="2.4"/>
<circle cx="156.2" cy="136.7" r="2.4"/>
<circle cx="107.0" cy="137.9" r="2.4"/>
<circle cx="111.6" cy="137.2" r="2.4"/>
<circle cx="120.0" cy="137.9" r="2.4"/>
<circle cx="127.5" cy="137.0" r="2.4"/>
<circle cx="129.7" cy="137.9" r="2.4"/>
<circle cx="146.5" cy="137.0" r="2.4"/>
<circle cx="149.5" cy="137.4" r="2.4"/>
<circle cx="150.0" cy="137.5" r="2.4"/>
<circle cx="151.7" cy="137.7" r="2.4"/>
<circle cx="152.9" cy="137.8" r="2.4"/>
<circle cx="155.6" cy="137.7" r="2.4"/>
<circle cx="107.0" cy="138.2" r="2.4"/>
<circle cx="111.3" cy="138.1" r="2.4"/>
<circle cx="118.0" cy="138.7" r="2.4"/>
<circle cx="120.7" cy="138.6" r="2.4"/>
<circle cx="124.3" cy="138.6" r="2.4"/>
<circle cx="126.2" cy="138.7" r="2.4"/>
<circle cx="132.1" cy="138.5" r="2.4"/>
<circle cx="137.2" cy="138.7" r="2.4"/>
<circle cx="145.9" cy="138.9" r="2.4"/>
<circle cx="146.9" cy="138.4" r="2.4"/>
<circle cx="151.7" cy="138.0" r="2.4"/>
<circle cx="154.1" cy="138.6" r="2.4"/>
<circle cx="155.4" cy="138.4" r="2.4"/>
<circle cx="109.8" cy="139.3" r="2.4"/>
<circle cx="112.9" cy="139.6" r="2.4"/>
<circle cx="115.3" cy="139.3" r="2.4"/>
<circle cx="123.6" cy="139.8" r="2.4"/>
<circle cx="130.9" cy="139.3" r="2.4"/>
<circle cx="132.5" cy="139.9" r="2.4"/>
<circle cx="134.0" cy="139.1" r="2.4"/>
<circle cx="138.6" cy="139.0" r="2.4"/>
<circle cx="143.4" cy="139.1" r="2.4"/>
<circle cx="145.6" cy="139.4" r="2.4"/>
<circle cx="153.3" cy="139.2" r="2.4"/>
<circle cx="157.0" cy="139.1" r="2.4"/>
<circle cx="121.6" cy="140.3" r="2.4"/>
<circle cx="122.6" cy="140.7" r="2.4"/>
<circle cx="126.3" cy="140.8" r="2.4"/>
<circle cx="128.1" cy="140.3" r="2.4"/>
<circle cx="130.4" cy="140.6" r="2.4"/>
<circle cx="131.8" cy="140.5" r="2.4"/>
<circle cx="132.8" cy="140.5" r="2.4"/>
<circle cx="141.5" cy="140.7" r="2.4"/>
<circle cx="141.7" cy="140.2" r="2.4"/>
<circle cx="143.6" cy="140.4" r="2.4"/>
<circle cx="144.8" cy="140.3" r="2.4"/>
<circle cx="145.5" cy="140.2" r="2.4"/>
<circle cx="146.9" cy="140.4" r="2.4"/>
<circle cx="150.4" cy="140.7" r="2.4"/>
<circle cx="151.8" cy="140.9" r="2.4"/>
<circle cx="154.4" cy="140.8" r="2.4"/>
<circle cx="155.0" cy="140.5" r="2.4"/>
<circle cx="155.9" cy="140.6" r="2.4"/>
<circle cx="107.5" cy="141.8" r="2.4"/>
<circle cx="111.3" cy="141.1" r="2.4"/>
<circle cx="124.3" cy="141.1" r="2.4"/>
<circle cx="124.8" cy="141.6" r="2.4"/>
<circle cx="130.1" cy="141.1" r="2.4"/>
<circle cx="131.6" cy="141.3" r="2.4"/>
<circle cx="134.7" cy="141.5" r="2.4"/>
<circle cx="136.6" cy="141.5" r="2.4"/>
<circle cx="139.3" cy="141.2" r="2.4"/>
<circle cx="156.1" cy="141.4" r="2.4"/>
<circle cx="157.3" cy="141.2" r="2.4"/>
<circle cx="119.0" cy="142.5" r="2.4"/>
<circle cx="121.0" cy="142.0" r="2.4"/>
<circle cx="121.9" cy="142.3" r="2.4"/>
<circle cx="125.5" cy="142.5" r="2.4"/>
<circle cx="133.6" cy="142.2" r="2.4"/>
<circle cx="146.5" cy="142.5" r="2.4"/>
<circle cx="148.2" cy="142.3" r="2.4"/>
<circle cx="150.4" cy="142.3" r="2.4"/>
<circle cx="151.4" cy="142.2" r="2.4"/>
<circle cx="152.0" cy="142.9" r="2.4"/>
<circle cx="152.7" cy="142.7" r="2.4"/>
<circle cx="153.9" cy="142.7" r="2.4"/>
<circle cx="157.4" cy="142.3" r="2.4"/>
<circle cx="110.0" cy="143.0" r="2.4"/>
<circle cx="111.3" cy="143.5" r="2.4"/>
<circle cx="113.0" cy="143.4" r="2.4"/>
<circle cx="113.7" cy="143.9" r="2.4"/>
<circle cx="121.3" cy="143.1" r="2.4"/>
<circle cx="123.0" cy="143.5" r="2.4"/>
<circle cx="126.2" cy="143.5" r="2.4"/>
<circle cx="131.9" cy="143.4" r="2.4"/>
<circle cx="136.0" cy="143.9" r="2.4"/>
<circle cx="138.9" cy="143.5" r="2.4"/>
<circle cx="140.8" cy="143.9" r="2.4"/>
<circle cx="142.1" cy="143.0" r="2.4"/>
<circle cx="146.4" cy="143.2" r="2.4"/>
<circle cx="146.6" cy="143.0" r="2.4"/>
<circle cx="152.0" cy="143.5" r="2.4"/>
<circle cx="153.1" cy="143.4" r="2.4"/>
<circle cx="156.6" cy="143.0" r="2.4"/>
<circle cx="158.1" cy="143.9" r="2.4"/>
<circle cx="108.2" cy="144.7" r="2.4"/>
<circle cx="111.7" cy="144.1" r="2.4"/>
<circle cx="115.5" cy="144.9" r="2.4"/>
<circle cx="120.2" cy="144.8" r="2.4"/>
<circle cx="123.1" cy="144.6" r="2.4"/>
<circle cx="125.7" cy="144.6" r="2.4"/>
<circle cx="126.6" cy="144.2" r="2.4"/>
<circle cx="133.0" cy="144.8" r="2.4"/>
<circle cx="139.0" cy="144.3" r="2.4"/>
<circle cx="142.0" cy="144.3" r="2.4"/>
<circle cx="148.0" cy="144.5" r="2.4"/>
<circle cx="149.2" cy="144.4" r="2.4"/>
<circle cx="151.3" cy="144.9" r="2.4"/>
<circle cx="152.5" cy="144.6" r="2.4"/>
<circle cx="154.3" cy="144.6" r="2.4"/>
<circle cx="157.8" cy="144.7" r="2.4"/>
<circle cx="107.6" cy="145.2" r="2.4"/>
<circle cx="109.1" cy="145.5" r="2.4"/>
<circle cx="118.8" cy="145.1" r="2.4"/>
<circle cx="124.5" cy="145.7" r="2.4"/>
<circle cx="128.9" cy="145.8" r="2.4"/>
<circle cx="130.6" cy="145.9" r="2.4"/>
<circle cx="133.1" cy="145.9" r="2.4"/>
<circle cx="136.9" cy="145.8" r="2.4"/>
<circle cx="139.3" cy="145.7" r="2.4"/>
<circle cx="139.5" cy="145.5" r="2.4"/>
<circle cx="144.0" cy="145.1" r="2.4"/>
<circle cx="145.9" cy="145.0" r="2.4"/>
<circle cx="151.3" cy="145.5" r="2.4"/>
<circle cx="154.1" cy="145.1" r="2.4"/>
<circle cx="113.9" cy="146.6" r="2.4"/>
<circle cx="114.7" cy="146.9" r="2.4"/>
<circle cx="118.9" cy="146.8" r="2.4"/>
<circle cx="121.1" cy="146.6" r="2.4"/>
<circle cx="125.1" cy="146.1" r="2.4"/>
<circle cx="133.8" cy="146.0" r="2.4"/>
<circle cx="138.3" cy="146.2" r="2.4"/>
<circle cx="143.2" cy="146.5" r="2.4"/>
<circle cx="145.8" cy="146.3" r="2.4"/>
<circle cx="147.3" cy="146.6" r="2.4"/>
<circle cx="150.8" cy="146.6" r="2.4"/>
<circle cx="153.6" cy="146.6" r="2.4"/>
<circle cx="107.7" cy="147.0" r="2.4"/>
<circle cx="115.2" cy="147.8" r="2.4"/>
<circle cx="116.3" cy="147.6" r="2.4"/>
<circle cx="124.2" cy="147.6" r="2.4"/>
<circle cx="125.5" cy="147.8" r="2.4"/>
<circle cx="130.0" cy="147.0" r="2.4"/>
<circle cx="133.1" cy="147.9" r="2.4"/>
<circle cx="142.7" cy="147.3" r="2.4"/>
<circle cx="146.4" cy="147.0" r="2.4"/>
<circle cx="146.7" cy="147.0" r="2.4"/>
<circle cx="156.9" cy="147.4" r="2.4"/>
<circle cx="157.5" cy="147.5" r="2.4"/>
<circle cx="108.3" cy="148.1" r="2.4"/>
<circle cx="110.0" cy="148.1" r="2.4"/>
<circle cx="119.5" cy="148.5" r="2.4"/>
<circle cx="123.0" cy="148.3" r="2.4"/>
<circle cx="138.5" cy="148.1" r="2.4"/>
<circle cx="139.5" cy="148.6" r="2.4"/>
<circle cx="142.6" cy="148.1" r="2.4"/>
<circle cx="144.0" cy="148.5" r="2.4"/>
<circle cx="145.2" cy="148.6" r="2.4"/>
<circle cx="149.7" cy="148.9" r="2.4"/>
<circle cx="153.1" cy="148.8" r="2.4"/>
<circle cx="156.6" cy="148.1" r="2.4"/>
<circle cx="111.5" cy="149.9" r="2.4"/>
<circle cx="117.9" cy="149.2" r="2.4"/>
<circle cx="119.2" cy="149.5" r="2.4"/>
<circle cx="125.0" cy="149.5" r="2.4"/>
<circle cx="126.8" cy="149.5" r="2.4"/>
<circle cx="128.5" cy="149.3" r="2.4"/>
<circle cx="131.0" cy="149.0" r="2.4"/>
<circle cx="132.0" cy="149.4" r="2.4"/>
<circle cx="132.8" cy="149.9" r="2.4"/>
<circle cx="138.2" cy="149.5" r="2.4"/>
<circle cx="139.5" cy="149.9" r="2.4"/>
<circle cx="144.4" cy="149.7" r="2.4"/>
<circle cx="145.9" cy="149.0" r="2.4"/>
<circle cx="146.5" cy="149.6" r="2.4"/>
<circle cx="152.3" cy="149.4" r="2.4"/>
<circle cx="154.2" cy="149.4" r="2.4"/>
<circle cx="154.7" cy="149.0" r="2.4"/>
<circle cx="157.0" cy="149.1" r="2.4"/>
<circle cx="130.3" cy="150.4" r="2.4"/>
<circle cx="132.2" cy="150.0" r="2.4"/>
<circle cx="133.4" cy="150.7" r="2.4"/>
<circle cx="145.0" cy="150.9" r="2.4"/>
<circle cx="148.4" cy="150.5" r="2.4"/>
<circle cx="152.1" cy="150.8" r="2.4"/>
<circle cx="154.6" cy="150.5" r="2.4"/>
<circle cx="158.2" cy="150.3" r="2.4"/>
<circle cx="113.2" cy="151.2" r="2.4"/>
<circle cx="115.4" cy="151.2" r="2.4"/>
<circle cx="117.1" cy="151.5" r="2.4"/>
<circle cx="117.6" cy="151.5" r="2.4"/>
<circle cx="118.6" cy="151.9" r="2.4"/>
<circle cx="120.9" cy="151.1" r="2.4"/>
<circle cx="123.8" cy="151.3" r="2.4"/>
<circle cx="128.5" cy="151.7" r="2.4"/>
<circle cx="130.7" cy="151.2" r="2.4"/>
<circle cx="136.9" cy="151.3" r="2.4"/>
<circle cx="141.1" cy="151.1" r="2.4"/>
<circle cx="147.2" cy="151.2" r="2.4"/>
<circle cx="148.0" cy="151.1" r="2.4"/>
<circle cx="149.4" cy="151.3" r="2.4"/>
<circle cx="150.8" cy="151.3" r="2.4"/>
<circle cx="156.2" cy="151.8" r="2.4"/>
<circle cx="105.6" cy="152.2" r="2.4"/>
<circle cx="106.9" cy="152.3" r="2.4"/>
<circle cx="111.1" cy="152.5" r="2.4"/>
<circle cx="117.6" cy="152.7" r="2.4"/>
<circle cx="118.9" cy="152.5" r="2.4"/>
<circle cx="124.8" cy="152.2" r="2.4"/>
<circle cx="126.5" cy="152.2" r="2.4"/>
<circle cx="131.8" cy="152.0" r="2.4"/>
<circle cx="134.8" cy="152.4" r="2.4"/>
<circle cx="137.2" cy="152.6" r="2.4"/>
<circle cx="138.1" cy="152.8" r="2.4"/>
<circle cx="143.1" cy="152.2" r="2.4"/>
<circle cx="156.5" cy="152.8" r="2.4"/>
<circle cx="110.7" cy="153.9" r="2.4"/>
<circle cx="111.7" cy="153.0" r="2.4"/>
<circle cx="115.0" cy="153.7" r="2.4"/>
<circle cx="123.2" cy="153.2" r="2.4"/>
<circle cx="125.1" cy="153.2" r="2.4"/>
<circle cx="128.0" cy="153.3" r="2.4"/>
<circle cx="130.1" cy="153.7" r="2.4"/>
<circle cx="133.6" cy="153.7" r="2.4"/>
<circle cx="135.5" cy="153.4" r="2.4"/>
<circle cx="136.3" cy="153.4" r="2.4"/>
<circle cx="138.1" cy="153.1" r="2.4"/>
<circle cx="147.2" cy="153.3" r="2.4"/>
<circle cx="148.9" cy="153.8" r="2.4"/>
<circle cx="151.2" cy="153.7" r="2.4"/>
<circle cx="153.8" cy="153.7" r="2.4"/>
<circle cx="156.7" cy="153.2" r="2.4"/>
<circle cx="302.9" cy="84.5" r="2.4"/>
<circle cx="313.5" cy="84.8" r="2.4"/>
<circle cx="305.4" cy="85.6" r="2.4"/>
<circle cx="309.4" cy="86.9" r="2.4"/>
<circle cx="309.4" cy="88.3" r="2.4"/>
<circle cx="319.0" cy="88.8" r="2.4"/>
<circle cx="305.1" cy="89.4" r="2.4"/>
<circle cx="309.8" cy="89.7" r="2.4"/>
<circle cx="314.3" cy="89.1" r="2.4"/>
<circle cx="306.5" cy="90.7" r="2.4"/>
<circle cx="316.9" cy="90.3" r="2.4"/>
<circle cx="322.1" cy="90.7" r="2.4"/>
<circle cx="298.9" cy="91.9" r="2.4"/>
<circle cx="307.6" cy="91.4" r="2.4"/>
<circle cx="298.0" cy="93.5" r="2.4"/>
<circle cx="319.8" cy="93.0" r="2.4"/>
<circle cx="298.2" cy="94.7" r="2.4"/>
<circle cx="304.3" cy="94.1" r="2.4"/>
<circle cx="301.0" cy="95.2" r="2.4"/>
<circle cx="304.7" cy="95.1" r="2.4"/>
<circle cx="312.6" cy="95.6" r="2.4"/>
<circle cx="315.4" cy="95.6" r="2.4"/>
<circle cx="312.2" cy="96.3" r="2.4"/>
<circle cx="304.9" cy="97.2" r="2.4"/>
<circle cx="309.0" cy="97.6" r="2.4"/>
<circle cx="311.6" cy="97.5" r="2.4"/>
<circle cx="323.8" cy="97.5" r="2.4"/>
<circle cx="299.2" cy="98.5" r="2.4"/>
<circle cx="306.2" cy="98.3" r="2.4"/>
<circle cx="313.5" cy="98.2" r="2.4"/>
<circle cx="320.9" cy="98.8" r="2.4"/>
<circle cx="299.3" cy="99.1" r="2.4"/>
<circle cx="312.8" cy="99.9" r="2.4"/>
<circle cx="319.6" cy="99.5" r="2.4"/>
<circle cx="300.5" cy="100.8" r="2.4"/>
<circle cx="315.5" cy="100.7" r="2.4"/>
<circle cx="319.0" cy="100.0" r="2.4"/>
<circle cx="323.9" cy="101.0" r="2.4"/>
<circle cx="326.5" cy="100.5" r="2.4"/>
<circle cx="306.4" cy="101.6" r="2.4"/>
<circle cx="327.2" cy="101.6" r="2.4"/>
<circle cx="332.1" cy="101.3" r="2.4"/>
<circle cx="304.5" cy="102.5" r="2.4"/>
<circle cx="311.7" cy="102.4" r="2.4"/>
<circle cx="318.1" cy="102.9" r="2.4"/>
<circle cx="333.0" cy="102.3" r="2.4"/>
<circle cx="313.5" cy="103.0" r="2.4"/>
<circle cx="317.6" cy="104.0" r="2.4"/>
<circle cx="305.4" cy="104.4" r="2.4"/>
<circle cx="306.8" cy="104.3" r="2.4"/>
<circle cx="308.2" cy="104.8" r="2.4"/>
<circle cx="312.7" cy="104.8" r="2.4"/>
<circle cx="333.4" cy="104.9" r="2.4"/>
<circle cx="331.7" cy="105.5" r="2.4"/>
<circle cx="306.8" cy="106.8" r="2.4"/>
<circle cx="321.2" cy="106.6" r="2.4"/>
<circle cx="331.7" cy="106.6" r="2.4"/>
<circle cx="296.8" cy="107.6" r="2.4"/>
<circle cx="301.5" cy="107.4" r="2.4"/>
<circle cx="308.0" cy="107.3" r="2.4"/>
<circle cx="318.4" cy="107.7" r="2.4"/>
<circle cx="320.5" cy="107.1" r="2.4"/>
<circle cx="324.9" cy="107.4" r="2.4"/>
<circle cx="311.3" cy="108.2" r="2.4"/>
<circle cx="326.2" cy="108.2" r="2.4"/>
<circle cx="330.5" cy="108.5" r="2.4"/>
<circle cx="296.8" cy="109.7" r="2.4"/>
<circle cx="299.4" cy="109.8" r="2.4"/>
<circle cx="319.7" cy="109.4" r="2.4"/>
<circle cx="327.2" cy="109.2" r="2.4"/>
<circle cx="330.0" cy="109.2" r="2.4"/>
<circle cx="334.4" cy="109.3" r="2.4"/>
<circle cx="336.0" cy="109.4" r="2.4"/>
<circle cx="302.8" cy="110.1" r="2.4"/>
<circle cx="317.1" cy="110.1" r="2.4"/>
<circle cx="324.2" cy="110.3" r="2.4"/>
<circle cx="329.7" cy="110.1" r="2.4"/>
<circle cx="301.6" cy="111.8" r="2.4"/>
<circle cx="303.0" cy="111.5" r="2.4"/>
<circle cx="316.6" cy="111.7" r="2.4"/>
<circle cx="322.9" cy="111.7" r="2.4"/>
<circle cx="323.1" cy="111.6" r="2.4"/>
<circle cx="296.2" cy="112.7" r="2.4"/>
<circle cx="309.9" cy="112.0" r="2.4"/>
<circle cx="310.7" cy="112.2" r="2.4"/>
<circle cx="323.4" cy="112.7" r="2.4"/>
<circle cx="329.7" cy="112.2" r="2.4"/>
<circle cx="304.6" cy="113.5" r="2.4"/>
<circle cx="306.2" cy="113.8" r="2.4"/>
<circle cx="310.2" cy="113.8" r="2.4"/>
<circle cx="314.5" cy="113.5" r="2.4"/>
<circle cx="320.3" cy="113.7" r="2.4"/>
<circle cx="322.0" cy="113.1" r="2.4"/>
<circle cx="323.1" cy="113.4" r="2.4"/>
<circle cx="325.5" cy="113.4" r="2.4"/>
<circle cx="336.8" cy="113.5" r="2.4"/>
<circle cx="332.8" cy="114.6" r="2.4"/>
<circle cx="298.5" cy="115.8" r="2.4"/>
<circle cx="315.3" cy="115.7" r="2.4"/>
<circle cx="323.4" cy="115.9" r="2.4"/>
<circle cx="328.8" cy="115.6" r="2.4"/>
<circle cx="329.4" cy="115.3" r="2.4"/>
<circle cx="302.8" cy="116.6" r="2.4"/>
<circle cx="310.4" cy="116.1" r="2.4"/>
<circle cx="316.7" cy="116.9" r="2.4"/>
<circle cx="302.4" cy="117.3" r="2.4"/>
<circle cx="305.8" cy="117.7" r="2.4"/>
<circle cx="312.0" cy="117.5" r="2.4"/>
<circle cx="313.5" cy="117.1" r="2.4"/>
<circle cx="322.6" cy="117.1" r="2.4"/>
<circle cx="328.2" cy="117.6" r="2.4"/>
<circle cx="335.0" cy="117.8" r="2.4"/>
<circle cx="299.4" cy="118.7" r="2.4"/>
<circle cx="311.7" cy="119.8" r="2.4"/>
<circle cx="315.2" cy="119.3" r="2.4"/>
<circle cx="320.8" cy="119.8" r="2.4"/>
<circle cx="323.9" cy="119.0" r="2.4"/>
<circle cx="326.2" cy="119.5" r="2.4"/>
<circle cx="332.1" cy="119.1" r="2.4"/>
<circle cx="335.6" cy="119.3" r="2.4"/>
<circle cx="299.5" cy="120.9" r="2.4"/>
<circle cx="312.4" cy="120.8" r="2.4"/>
<circle cx="313.5" cy="120.7" r="2.4"/>
<circle cx="316.7" cy="120.2" r="2.4"/>
<circle cx="320.9" cy="120.7" r="2.4"/>
<circle cx="307.6" cy="121.1" r="2.4"/>
<circle cx="316.8" cy="121.7" r="2.4"/>
<circle cx="323.0" cy="121.8" r="2.4"/>
<circle cx="307.6" cy="122.7" r="2.4"/>
<circle cx="314.6" cy="122.8" r="2.4"/>
<circle cx="316.7" cy="122.9" r="2.4"/>
<circle cx="318.6" cy="122.2" r="2.4"/>
<circle cx="303.1" cy="123.5" r="2.4"/>
<circle cx="305.4" cy="123.7" r="2.4"/>
<circle cx="307.2" cy="123.5" r="2.4"/>
<circle cx="326.9" cy="123.9" r="2.4"/>
<circle cx="335.1" cy="123.5" r="2.4"/>
<circle cx="302.6" cy="124.6" r="2.4"/>
<circle cx="309.0" cy="124.6" r="2.4"/>
<circle cx="312.4" cy="124.5" r="2.4"/>
<circle cx="335.0" cy="124.4" r="2.4"/>
<circle cx="302.4" cy="125.4" r="2.4"/>
<circle cx="306.9" cy="125.9" r="2.4"/>
<circle cx="311.7" cy="125.7" r="2.4"/>
<circle cx="319.3" cy="125.2" r="2.4"/>
<circle cx="325.2" cy="125.4" r="2.4"/>
<circle cx="301.6" cy="126.7" r="2.4"/>
<circle cx="304.9" cy="126.9" r="2.4"/>
<circle cx="310.1" cy="126.8" r="2.4"/>
<circle cx="313.2" cy="126.6" r="2.4"/>
<circle cx="317.4" cy="126.9" r="2.4"/>
<circle cx="319.2" cy="126.3" r="2.4"/>
<circle cx="320.3" cy="126.6" r="2.4"/>
<circle cx="332.8" cy="126.4" r="2.4"/>
<circle cx="304.6" cy="127.9" r="2.4"/>
<circle cx="309.2" cy="127.7" r="2.4"/>
<circle cx="315.2" cy="127.5" r="2.4"/>
<circle cx="318.5" cy="127.2" r="2.4"/>
<circle cx="321.3" cy="127.8" r="2.4"/>
<circle cx="323.9" cy="127.6" r="2.4"/>
<circle cx="329.3" cy="127.4" r="2.4"/>
<circle cx="307.5" cy="128.3" r="2.4"/>
<circle cx="309.9" cy="128.8" r="2.4"/>
<circle cx="312.1" cy="128.4" r="2.4"/>
<circle cx="316.8" cy="128.1" r="2.4"/>
<circle cx="305.1" cy="129.8" r="2.4"/>
<circle cx="316.2" cy="129.3" r="2.4"/>
<circle cx="317.6" cy="129.3" r="2.4"/>
<circle cx="321.0" cy="129.6" r="2.4"/>
<circle cx="322.5" cy="129.0" r="2.4"/>
<circle cx="306.5" cy="130.9" r="2.4"/>
<circle cx="307.6" cy="130.6" r="2.4"/>
<circle cx="323.7" cy="130.2" r="2.4"/>
<circle cx="303.5" cy="131.0" r="2.4"/>
<circle cx="307.0" cy="131.5" r="2.4"/>
<circle cx="311.8" cy="131.3" r="2.4"/>
<circle cx="316.2" cy="131.1" r="2.4"/>
<circle cx="318.6" cy="131.4" r="2.4"/>
<circle cx="323.4" cy="131.0" r="2.4"/>
<circle cx="327.5" cy="131.9" r="2.4"/>
<circle cx="330.3" cy="131.2" r="2.4"/>
<circle cx="332.7" cy="131.8" r="2.4"/>
<circle cx="333.5" cy="131.4" r="2.4"/>
<circle cx="320.7" cy="132.4" r="2.4"/>
<circle cx="326.0" cy="132.7" r="2.4"/>
<circle cx="328.8" cy="132.7" r="2.4"/>
<circle cx="332.4" cy="132.5" r="2.4"/>
<circle cx="303.1" cy="133.8" r="2.4"/>
<circle cx="304.7" cy="133.7" r="2.4"/>
<circle cx="309.7" cy="133.9" r="2.4"/>
<circle cx="311.7" cy="133.4" r="2.4"/>
<circle cx="314.4" cy="133.5" r="2.4"/>
<circle cx="316.0" cy="133.9" r="2.4"/>
<circle cx="320.8" cy="133.6" r="2.4"/>
<circle cx="324.3" cy="133.7" r="2.4"/>
<circle cx="328.1" cy="133.2" r="2.4"/>
<circle cx="313.8" cy="134.2" r="2.4"/>
<circle cx="315.5" cy="135.0" r="2.4"/>
<circle cx="321.8" cy="134.3" r="2.4"/>
<circle cx="302.9" cy="135.7" r="2.4"/>
<circle cx="309.4" cy="135.8" r="2.4"/>
<circle cx="316.6" cy="135.5" r="2.4"/>
<circle cx="319.3" cy="135.1" r="2.4"/>
<circle cx="318.6" cy="136.4" r="2.4"/>
<circle cx="320.3" cy="136.9" r="2.4"/>
<circle cx="313.9" cy="137.7" r="2.4"/>
<circle cx="316.1" cy="137.5" r="2.4"/>
<circle cx="325.2" cy="137.6" r="2.4"/>
<circle cx="326.2" cy="137.2" r="2.4"/>
<circle cx="298.7" cy="138.6" r="2.4"/>
<circle cx="313.0" cy="138.3" r="2.4"/>
<circle cx="314.0" cy="138.7" r="2.4"/>
<circle cx="319.5" cy="138.6" r="2.4"/>
<circle cx="331.2" cy="138.5" r="2.4"/>
<circle cx="301.1" cy="139.1" r="2.4"/>
<circle cx="304.4" cy="139.9" r="2.4"/>
<circle cx="314.6" cy="139.3" r="2.4"/>
<circle cx="316.1" cy="139.4" r="2.4"/>
<circle cx="320.2" cy="139.9" r="2.4"/>
<circle cx="324.7" cy="139.7" r="2.4"/>
<circle cx="333.1" cy="139.1" r="2.4"/>
<circle cx="300.7" cy="140.8" r="2.4"/>
<circle cx="305.3" cy="140.9" r="2.4"/>
<circle cx="313.1" cy="140.4" r="2.4"/>
<circle cx="315.1" cy="140.9" r="2.4"/>
<circle cx="316.1" cy="140.1" r="2.4"/>
<circle cx="317.3" cy="140.6" r="2.4"/>
<circle cx="323.7" cy="140.0" r="2.4"/>
<circle cx="304.6" cy="141.3" r="2.4"/>
<circle cx="310.9" cy="141.9" r="2.4"/>
<circle cx="312.2" cy="141.7" r="2.4"/>
<circle cx="313.7" cy="141.2" r="2.4"/>
<circle cx="318.3" cy="141.7" r="2.4"/>
<circle cx="322.2" cy="141.5" r="2.4"/>
<circle cx="323.6" cy="141.1" r="2.4"/>
<circle cx="326.8" cy="141.6" r="2.4"/>
<circle cx="331.2" cy="141.2" r="2.4"/>
<circle cx="306.3" cy="142.2" r="2.4"/>
<circle cx="308.5" cy="142.9" r="2.4"/>
<circle cx="308.7" cy="142.9" r="2.4"/>
<circle cx="314.3" cy="142.4" r="2.4"/>
<circle cx="315.4" cy="142.7" r="2.4"/>
<circle cx="316.0" cy="142.7" r="2.4"/>
<circle cx="320.8" cy="142.5" r="2.4"/>
<circle cx="324.2" cy="142.1" r="2.4"/>
<circle cx="326.1" cy="143.0" r="2.4"/>
<circle cx="331.5" cy="142.3" r="2.4"/>
<circle cx="333.5" cy="142.5" r="2.4"/>
<circle cx="305.1" cy="143.6" r="2.4"/>
<circle cx="315.1" cy="143.4" r="2.4"/>
<circle cx="315.7" cy="143.1" r="2.4"/>
<circle cx="320.8" cy="144.0" r="2.4"/>
<circle cx="321.7" cy="143.1" r="2.4"/>
<circle cx="322.6" cy="143.6" r="2.4"/>
<circle cx="324.2" cy="143.4" r="2.4"/>
<circle cx="324.5" cy="143.5" r="2.4"/>
<circle cx="327.7" cy="143.5" r="2.4"/>
<circle cx="328.9" cy="143.8" r="2.4"/>
<circle cx="331.0" cy="143.1" r="2.4"/>
<circle cx="331.4" cy="143.5" r="2.4"/>
<circle cx="298.0" cy="144.1" r="2.4"/>
<circle cx="305.8" cy="144.1" r="2.4"/>
<circle cx="307.6" cy="144.7" r="2.4"/>
<circle cx="310.6" cy="144.9" r="2.4"/>
<circle cx="319.4" cy="144.7" r="2.4"/>
<circle cx="324.8" cy="144.1" r="2.4"/>
<circle cx="332.0" cy="144.7" r="2.4"/>
<circle cx="299.9" cy="145.7" r="2.4"/>
<circle cx="307.1" cy="145.2" r="2.4"/>
<circle cx="312.3" cy="145.1" r="2.4"/>
<circle cx="314.3" cy="145.4" r="2.4"/>
<circle cx="315.1" cy="146.0" r="2.4"/>
<circle cx="327.8" cy="145.8" r="2.4"/>
<circle cx="308.2" cy="147.0" r="2.4"/>
<circle cx="310.0" cy="146.2" r="2.4"/>
<circle cx="312.4" cy="146.2" r="2.4"/>
<circle cx="315.2" cy="146.3" r="2.4"/>
<circle cx="317.3" cy="146.3" r="2.4"/>
<circle cx="321.6" cy="146.6" r="2.4"/>
<circle cx="324.4" cy="146.4" r="2.4"/>
<circle cx="325.5" cy="146.7" r="2.4"/>
<circle cx="327.3" cy="146.1" r="2.4"/>
<circle cx="328.8" cy="146.7" r="2.4"/>
<circle cx="298.3" cy="147.9" r="2.4"/>
<circle cx="300.7" cy="148.0" r="2.4"/>
<circle cx="305.2" cy="147.8" r="2.4"/>
<circle cx="307.3" cy="147.8" r="2.4"/>
<circle cx="309.4" cy="147.6" r="2.4"/>
<circle cx="310.4" cy="147.7" r="2.4"/>
<circle cx="311.3" cy="147.6" r="2.4"/>
<circle cx="312.6" cy="147.8" r="2.4"/>
<circle cx="313.6" cy="147.1" r="2.4"/>
<circle cx="316.2" cy="147.5" r="2.4"/>
<circle cx="319.8" cy="147.8" r="2.4"/>
<circle cx="330.6" cy="147.2" r="2.4"/>
<circle cx="298.5" cy="148.6" r="2.4"/>
<circle cx="307.3" cy="148.7" r="2.4"/>
<circle cx="316.4" cy="148.1" r="2.4"/>
<circle cx="317.6" cy="148.3" r="2.4"/>
<circle cx="323.8" cy="148.2" r="2.4"/>
<circle cx="324.4" cy="148.2" r="2.4"/>
<circle cx="325.2" cy="148.8" r="2.4"/>
<circle cx="328.2" cy="148.9" r="2.4"/>
<circle cx="334.3" cy="148.7" r="2.4"/>
<circle cx="296.2" cy="149.5" r="2.4"/>
<circle cx="301.4" cy="149.8" r="2.4"/>
<circle cx="302.5" cy="149.8" r="2.4"/>
<circle cx="317.1" cy="149.2" r="2.4"/>
<circle cx="318.9" cy="149.6" r="2.4"/>
<circle cx="322.9" cy="149.4" r="2.4"/>
<circle cx="298.5" cy="150.8" r="2.4"/>
<circle cx="301.2" cy="150.8" r="2.4"/>
<circle cx="304.8" cy="150.8" r="2.4"/>
<circle cx="306.0" cy="150.4" r="2.4"/>
<circle cx="311.9" cy="150.3" r="2.4"/>
<circle cx="313.7" cy="150.6" r="2.4"/>
<circle cx="315.6" cy="150.2" r="2.4"/>
<circle cx="317.0" cy="150.1" r="2.4"/>
<circle cx="319.3" cy="150.7" r="2.4"/>
<circle cx="319.9" cy="150.5" r="2.4"/>
<circle cx="323.9" cy="150.7" r="2.4"/>
<circle cx="329.6" cy="150.5" r="2.4"/>
<circle cx="336.3" cy="150.3" r="2.4"/>
<circle cx="302.4" cy="151.4" r="2.4"/>
<circle cx="315.4" cy="151.8" r="2.4"/>
<circle cx="319.7" cy="151.2" r="2.4"/>
<circle cx="324.8" cy="151.5" r="2.4"/>
<circle cx="326.0" cy="151.9" r="2.4"/>
<circle cx="330.6" cy="151.6" r="2.4"/>
<circle cx="334.3" cy="151.5" r="2.4"/>
<circle cx="336.1" cy="151.6" r="2.4"/>
<circle cx="297.1" cy="152.3" r="2.4"/>
<circle cx="301.7" cy="152.1" r="2.4"/>
<circle cx="302.3" cy="152.4" r="2.4"/>
<circle cx="304.4" cy="152.9" r="2.4"/>
<circle cx="311.4" cy="152.8" r="2.4"/>
<circle cx="314.9" cy="152.9" r="2.4"/>
<circle cx="316.3" cy="152.5" r="2.4"/>
<circle cx="316.5" cy="152.7" r="2.4"/>
<circle cx="318.5" cy="152.1" r="2.4"/>
<circle cx="319.5" cy="152.4" r="2.4"/>
<circle cx="320.9" cy="152.2" r="2.4"/>
<circle cx="321.7" cy="152.2" r="2.4"/>
<circle cx="322.4" cy="152.0" r="2.4"/>
<circle cx="324.8" cy="152.9" r="2.4"/>
<circle cx="330.4" cy="152.1" r="2.4"/>
<circle cx="333.9" cy="152.2" r="2.4"/>
<circle cx="299.7" cy="153.4" r="2.4"/>
<circle cx="301.2" cy="153.9" r="2.4"/>
<circle cx="306.9" cy="153.2" r="2.4"/>
<circle cx="315.1" cy="153.0" r="2.4"/>
<circle cx="321.0" cy="153.3" r="2.4"/>
<circle cx="321.3" cy="154.0" r="2.4"/>
<circle cx="309.3" cy="154.3" r="2.4"/>
<circle cx="311.9" cy="154.1" r="2.4"/>
<circle cx="316.4" cy="154.6" r="2.4"/>
<circle cx="318.2" cy="154.2" r="2.4"/>
<circle cx="323.1" cy="154.7" r="2.4"/>
<circle cx="326.1" cy="154.1" r="2.4"/>
<circle cx="327.2" cy="154.7" r="2.4"/>
<circle cx="330.2" cy="154.1" r="2.4"/>
<circle cx="334.1" cy="154.9" r="2.4"/>
<circle cx="297.2" cy="156.0" r="2.4"/>
<circle cx="298.6" cy="155.8" r="2.4"/>
<circle cx="300.0" cy="155.7" r="2.4"/>
<circle cx="313.3" cy="155.2" r="2.4"/>
<circle cx="313.9" cy="155.9" r="2.4"/>
<circle cx="314.9" cy="155.9" r="2.4"/>
<circle cx="319.6" cy="155.1" r="2.4"/>
<circle cx="322.4" cy="155.4" r="2.4"/>
<circle cx="327.0" cy="156.0" r="2.4"/>
<circle cx="330.0" cy="155.8" r="2.4"/>
<circle cx="330.6" cy="155.2" r="2.4"/>
<circle cx="332.3" cy="155.7" r="2.4"/>
<circle cx="334.3" cy="155.8" r="2.4"/>
<circle cx="334.7" cy="156.0" r="2.4"/>
<circle cx="336.8" cy="155.7" r="2.4"/>
<circle cx="295.4" cy="156.5" r="2.4"/>
<circle cx="298.7" cy="156.1" r="2.4"/>
<circle cx="300.7" cy="157.0" r="2.4"/>
<circle cx="305.0" cy="157.0" r="2.4"/>
<circle cx="306.2" cy="156.3" r="2.4"/>
<circle cx="307.0" cy="156.9" r="2.4"/>
<circle cx="307.5" cy="156.5" r="2.4"/>
<circle cx="308.9" cy="157.0" r="2.4"/>
<circle cx="309.8" cy="156.2" r="2.4"/>
<circle cx="310.9" cy="156.9" r="2.4"/>
<circle cx="318.3" cy="156.6" r="2.4"/>
<circle cx="320.1" cy="156.1" r="2.4"/>
<circle cx="320.5" cy="156.4" r="2.4"/>
<circle cx="329.6" cy="156.7" r="2.4"/>
<circle cx="334.6" cy="157.0" r="2.4"/>
<circle cx="303.1" cy="157.1" r="2.4"/>
<circle cx="304.6" cy="157.5" r="2.4"/>
<circle cx="305.3" cy="157.5" r="2.4"/>
<circle cx="308.4" cy="157.3" r="2.4"/>
<circle cx="309.7" cy="157.2" r="2.4"/>
<circle cx="312.6" cy="157.6" r="2.4"/>
<circle cx="317.9" cy="157.8" r="2.4"/>
<circle cx="321.0" cy="157.4" r="2.4"/>
<circle cx="323.6" cy="157.0" r="2.4"/>
<circle cx="325.1" cy="157.2" r="2.4"/>
<circle cx="327.1" cy="157.5" r="2.4"/>
<circle cx="337.3" cy="157.7" r="2.4"/>
<circle cx="307.5" cy="158.3" r="2.4"/>
<circle cx="312.6" cy="158.6" r="2.4"/>
<circle cx="313.3" cy="158.1" r="2.4"/>
<circle cx="315.5" cy="158.5" r="2.4"/>
<circle cx="316.8" cy="158.6" r="2.4"/>
<circle cx="318.0" cy="158.3" r="2.4"/>
<circle cx="319.1" cy="158.5" r="2.4"/>
<circle cx="322.1" cy="158.5" r="2.4"/>
<circle cx="325.0" cy="158.4" r="2.4"/>
<circle cx="328.2" cy="158.7" r="2.4"/>
<circle cx="328.9" cy="159.0" r="2.4"/>
<circle cx="298.6" cy="159.8" r="2.4"/>
<circle cx="302.2" cy="159.1" r="2.4"/>
<circle cx="307.2" cy="159.5" r="2.4"/>
<circle cx="309.1" cy="159.4" r="2.4"/>
<circle cx="311.0" cy="159.5" r="2.4"/>
<circle cx="312.0" cy="159.5" r="2.4"/>
<circle cx="316.2" cy="159.3" r="2.4"/>
<circle cx="317.1" cy="159.6" r="2.4"/>
<circle cx="320.7" cy="159.5" r="2.4"/>
<circle cx="324.0" cy="159.7" r="2.4"/>
<circle cx="327.3" cy="159.5" r="2.4"/>
<circle cx="328.4" cy="159.8" r="2.4"/>
<circle cx="337.3" cy="159.7" r="2.4"/>
<circle cx="338.9" cy="159.6" r="2.4"/>
<circle cx="294.3" cy="160.9" r="2.4"/>
<circle cx="310.0" cy="160.2" r="2.4"/>
<circle cx="312.3" cy="160.3" r="2.4"/>
<circle cx="313.0" cy="160.3" r="2.4"/>
<circle cx="315.7" cy="160.1" r="2.4"/>
<circle cx="319.1" cy="160.4" r="2.4"/>
<circle cx="322.3" cy="160.0" r="2.4"/>
<circle cx="322.5" cy="161.0" r="2.4"/>
<circle cx="327.3" cy="160.0" r="2.4"/>
<circle cx="334.5" cy="160.5" r="2.4"/>
<circle cx="337.0" cy="160.1" r="2.4"/>
<circle cx="293.7" cy="161.1" r="2.4"/>
<circle cx="302.2" cy="161.7" r="2.4"/>
<circle cx="302.3" cy="161.1" r="2.4"/>
<circle cx="308.7" cy="161.4" r="2.4"/>
<circle cx="310.1" cy="161.7" r="2.4"/>
<circle cx="313.7" cy="161.9" r="2.4"/>
<circle cx="318.4" cy="161.2" r="2.4"/>
<circle cx="319.3" cy="161.8" r="2.4"/>
<circle cx="324.0" cy="161.4" r="2.4"/>
<circle cx="325.5" cy="161.5" r="2.4"/>
<circle cx="326.5" cy="161.7" r="2.4"/>
<circle cx="339.5" cy="161.5" r="2.4"/>
<circle cx="293.4" cy="162.1" r="2.4"/>
<circle cx="297.6" cy="162.5" r="2.4"/>
<circle cx="298.3" cy="162.5" r="2.4"/>
<circle cx="301.6" cy="162.6" r="2.4"/>
<circle cx="302.5" cy="162.9" r="2.4"/>
<circle cx="315.6" cy="162.4" r="2.4"/>
<circle cx="318.6" cy="162.9" r="2.4"/>
<circle cx="319.6" cy="162.5" r="2.4"/>
<circle cx="323.3" cy="162.5" r="2.4"/>
<circle cx="330.9" cy="162.5" r="2.4"/>
<circle cx="335.0" cy="162.6" r="2.4"/>
<circle cx="296.8" cy="163.7" r="2.4"/>
<circle cx="298.8" cy="163.9" r="2.4"/>
<circle cx="299.7" cy="163.6" r="2.4"/>
<circle cx="303.4" cy="163.2" r="2.4"/>
<circle cx="305.7" cy="163.3" r="2.4"/>
<circle cx="311.1" cy="163.1" r="2.4"/>
<circle cx="312.1" cy="163.8" r="2.4"/>
<circle cx="313.3" cy="163.5" r="2.4"/>
<circle cx="314.5" cy="163.2" r="2.4"/>
<circle cx="316.7" cy="163.3" r="2.4"/>
<circle cx="317.0" cy="163.2" r="2.4"/>
<circle cx="318.1" cy="164.0" r="2.4"/>
<circle cx="321.9" cy="163.9" r="2.4"/>
<circle cx="324.0" cy="163.7" r="2.4"/>
<circle cx="329.1" cy="163.3" r="2.4"/>
<circle cx="330.6" cy="163.1" r="2.4"/>
<circle cx="333.8" cy="163.6" r="2.4"/>
<circle cx="335.0" cy="163.8" r="2.4"/>
<circle cx="337.6" cy="163.2" r="2.4"/>
<circle cx="338.4" cy="163.1" r="2.4"/>
<circle cx="294.3" cy="164.7" r="2.4"/>
<circle cx="295.5" cy="164.1" r="2.4"/>
<circle cx="296.9" cy="164.5" r="2.4"/>
<circle cx="312.9" cy="164.2" r="2.4"/>
<circle cx="318.8" cy="164.5" r="2.4"/>
<circle cx="320.7" cy="164.9" r="2.4"/>
<circle cx="330.6" cy="164.6" r="2.4"/>
<circle cx="332.4" cy="164.9" r="2.4"/>
<circle cx="333.7" cy="165.0" r="2.4"/>
<circle cx="334.3" cy="164.5" r="2.4"/>
<circle cx="336.1" cy="164.9" r="2.4"/>
<circle cx="293.2" cy="165.6" r="2.4"/>
<circle cx="295.4" cy="165.0" r="2.4"/>
<circle cx="297.4" cy="165.6" r="2.4"/>
<circle cx="298.2" cy="165.4" r="2.4"/>
<circle cx="299.1" cy="165.1" r="2.4"/>
<circle cx="305.5" cy="165.7" r="2.4"/>
<circle cx="306.1" cy="165.1" r="2.4"/>
<circle cx="308.6" cy="165.1" r="2.4"/>
<circle cx="310.3" cy="165.7" r="2.4"/>
<circle cx="313.5" cy="165.4" r="2.4"/>
<circle cx="314.2" cy="165.9" r="2.4"/>
<circle cx="315.4" cy="165.5" r="2.4"/>
<circle cx="318.6" cy="165.1" r="2.4"/>
<circle cx="319.8" cy="165.2" r="2.4"/>
<circle cx="322.7" cy="165.1" r="2.4"/>
<circle cx="324.4" cy="165.5" r="2.4"/>
<circle cx="327.7" cy="165.6" r="2.4"/>
<circle cx="329.7" cy="165.7" r="2.4"/>
<circle cx="331.6" cy="165.6" r="2.4"/>
<circle cx="336.6" cy="165.7" r="2.4"/>
<circle cx="336.8" cy="165.1" r="2.4"/>
<circle cx="295.9" cy="166.4" r="2.4"/>
<circle cx="306.5" cy="166.8" r="2.4"/>
<circle cx="307.9" cy="166.7" r="2.4"/>
<circle cx="313.2" cy="166.3" r="2.4"/>
<circle cx="316.4" cy="166.6" r="2.4"/>
<circle cx="317.2" cy="166.9" r="2.4"/>
<circle cx="322.1" cy="166.2" r="2.4"/>
<circle cx="324.4" cy="166.7" r="2.4"/>
<circle cx="325.3" cy="166.3" r="2.4"/>
<circle cx="326.3" cy="166.6" r="2.4"/>
<circle cx="327.4" cy="166.1" r="2.4"/>
<circle cx="328.6" cy="166.9" r="2.4"/>
<circle cx="338.2" cy="166.4" r="2.4"/>
<circle cx="293.2" cy="167.1" r="2.4"/>
<circle cx="298.6" cy="167.9" r="2.4"/>
<circle cx="300.3" cy="167.4" r="2.4"/>
<circle cx="304.3" cy="167.5" r="2.4"/>
<circle cx="307.9" cy="167.6" r="2.4"/>
<circle cx="314.8" cy="167.6" r="2.4"/>
<circle cx="321.0" cy="167.9" r="2.4"/>
<circle cx="322.1" cy="167.5" r="2.4"/>
<circle cx="322.8" cy="167.2" r="2.4"/>
<circle cx="325.8" cy="168.0" r="2.4"/>
<circle cx="327.5" cy="167.6" r="2.4"/>
<circle cx="330.4" cy="167.7" r="2.4"/>
<circle cx="331.6" cy="167.3" r="2.4"/>
<circle cx="336.5" cy="167.5" r="2.4"/>
<circle cx="337.2" cy="167.2" r="2.4"/>
<circle cx="340.9" cy="168.0" r="2.4"/>
<circle cx="294.2" cy="168.2" r="2.4"/>
<circle cx="295.3" cy="168.1" r="2.4"/>
<circle cx="296.3" cy="169.0" r="2.4"/>
<circle cx="297.4" cy="168.1" r="2.4"/>
<circle cx="297.6" cy="168.0" r="2.4"/>
<circle cx="300.8" cy="168.0" r="2.4"/>
<circle cx="304.4" cy="168.1" r="2.4"/>
<circle cx="306.3" cy="168.1" r="2.4"/>
<circle cx="307.6" cy="168.3" r="2.4"/>
<circle cx="312.3" cy="168.7" r="2.4"/>
<circle cx="316.2" cy="168.5" r="2.4"/>
<circle cx="319.0" cy="168.6" r="2.4"/>
<circle cx="321.6" cy="168.5" r="2.4"/>
<circle cx="321.8" cy="168.0" r="2.4"/>
<circle cx="324.2" cy="168.9" r="2.4"/>
<circle cx="327.3" cy="168.8" r="2.4"/>
<circle cx="327.8" cy="168.4" r="2.4"/>
<circle cx="332.3" cy="168.2" r="2.4"/>
<circle cx="332.6" cy="168.6" r="2.4"/>
<circle cx="336.8" cy="168.6" r="2.4"/>
<circle cx="294.1" cy="169.1" r="2.4"/>
<circle cx="294.8" cy="169.4" r="2.4"/>
<circle cx="296.5" cy="169.3" r="2.4"/>
<circle cx="297.9" cy="169.8" r="2.4"/>
<circle cx="305.8" cy="169.8" r="2.4"/>
<circle cx="306.7" cy="169.6" r="2.4"/>
<circle cx="313.0" cy="170.0" r="2.4"/>
<circle cx="315.2" cy="170.0" r="2.4"/>
<circle cx="320.2" cy="169.3" r="2.4"/>
<circle cx="321.4" cy="169.4" r="2.4"/>
<circle cx="325.0" cy="169.0" r="2.4"/>
<circle cx="333.5" cy="169.8" r="2.4"/>
<circle cx="338.2" cy="169.9" r="2.4"/>
<circle cx="292.7" cy="170.7" r="2.4"/>
<circle cx="295.2" cy="170.5" r="2.4"/>
<circle cx="295.7" cy="170.3" r="2.4"/>
<circle cx="297.9" cy="170.6" r="2.4"/>
<circle cx="302.1" cy="170.6" r="2.4"/>
<circle cx="306.2" cy="170.9" r="2.4"/>
<circle cx="310.1" cy="170.8" r="2.4"/>
<circle cx="312.0" cy="170.8" r="2.4"/>
<circle cx="312.9" cy="171.0" r="2.4"/>
<circle cx="322.6" cy="170.5" r="2.4"/>
<circle cx="323.8" cy="170.8" r="2.4"/>
<circle cx="325.7" cy="170.4" r="2.4"/>
<circle cx="328.3" cy="170.2" r="2.4"/>
<circle cx="330.2" cy="170.1" r="2.4"/>
<circle cx="332.7" cy="170.1" r="2.4"/>
<circle cx="336.4" cy="170.2" r="2.4"/>
<circle cx="339.6" cy="170.2" r="2.4"/>
<circle cx="295.1" cy="171.2" r="2.4"/>
<circle cx="304.2" cy="171.4" r="2.4"/>
<circle cx="310.7" cy="171.3" r="2.4"/>
<circle cx="316.7" cy="171.6" r="2.4"/>
<circle cx="320.8" cy="171.2" r="2.4"/>
<circle cx="324.4" cy="171.0" r="2.4"/>
<circle cx="327.5" cy="171.7" r="2.4"/>
<circle cx="336.1" cy="171.6" r="2.4"/>
<circle cx="336.6" cy="171.4" r="2.4"/>
<circle cx="338.0" cy="171.4" r="2.4"/>
<circle cx="342.1" cy="172.0" r="2.4"/>
<circle cx="295.8" cy="172.2" r="2.4"/>
<circle cx="296.7" cy="172.5" r="2.4"/>
<circle cx="300.2" cy="172.6" r="2.4"/>
<circle cx="300.4" cy="172.9" r="2.4"/>
<circle cx="301.7" cy="172.3" r="2.4"/>
<circle cx="308.7" cy="172.1" r="2.4"/>
<circle cx="309.6" cy="172.3" r="2.4"/>
<circle cx="310.7" cy="172.9" r="2.4"/>
<circle cx="311.9" cy="172.9" r="2.4"/>
<circle cx="313.2" cy="172.5" r="2.4"/>
<circle cx="314.3" cy="172.8" r="2.4"/>
<circle cx="315.4" cy="172.6" r="2.4"/>
<circle cx="316.5" cy="172.7" r="2.4"/>
<circle cx="318.5" cy="172.6" r="2.4"/>
<circle cx="319.8" cy="172.9" r="2.4"/>
<circle cx="322.1" cy="172.7" r="2.4"/>
<circle cx="326.7" cy="172.3" r="2.4"/>
<circle cx="330.1" cy="172.1" r="2.4"/>
<circle cx="331.0" cy="172.0" r="2.4"/>
<circle cx="336.2" cy="172.9" r="2.4"/>
<circle cx="336.9" cy="172.5" r="2.4"/>
<circle cx="339.3" cy="172.6" r="2.4"/>
<circle cx="310.8" cy="173.4" r="2.4"/>
<circle cx="312.6" cy="173.6" r="2.4"/>
<circle cx="315.8" cy="173.8" r="2.4"/>
<circle cx="317.9" cy="173.4" r="2.4"/>
<circle cx="318.5" cy="173.2" r="2.4"/>
<circle cx="320.7" cy="173.6" r="2.4"/>
<circle cx="323.7" cy="173.0" r="2.4"/>
<circle cx="326.6" cy="173.5" r="2.4"/>
<circle cx="327.7" cy="173.1" r="2.4"/>
<circle cx="328.9" cy="173.3" r="2.4"/>
<circle cx="330.3" cy="173.1" r="2.4"/>
<circle cx="331.5" cy="173.3" r="2.4"/>
<circle cx="334.8" cy="173.9" r="2.4"/>
<circle cx="338.2" cy="173.9" r="2.4"/>
<circle cx="107.3" cy="80.4" r="2.4"/>
<circle cx="108.4" cy="80.4" r="2.4"/>
<circle cx="109.7" cy="80.4" r="2.4"/>
<circle cx="111.0" cy="80.4" r="2.4"/>
<circle cx="112.2" cy="80.4" r="2.4"/>
<circle cx="114.2" cy="80.4" r="2.4"/>
<circle cx="116.3" cy="80.4" r="2.4"/>
<circle cx="117.7" cy="80.4" r="2.4"/>
<circle cx="119.7" cy="80.4" r="2.4"/>
<circle cx="121.0" cy="80.4" r="2.4"/>
<circle cx="122.7" cy="80.4" r="2.4"/>
<circle cx="124.0" cy="80.4" r="2.4"/>
<circle cx="126.1" cy="80.4" r="2.4"/>
<circle cx="127.7" cy="80.4" r="2.4"/>
<circle cx="129.4" cy="80.4" r="2.4"/>
<circle cx="131.3" cy="80.4" r="2.4"/>
<circle cx="133.0" cy="80.4" r="2.4"/>
<circle cx="134.6" cy="80.4" r="2.4"/>
<circle cx="136.4" cy="80.4" r="2.4"/>
<circle cx="138.0" cy="80.4" r="2.4"/>
<circle cx="139.7" cy="80.4" r="2.4"/>
<circle cx="141.0" cy="80.4" r="2.4"/>
<circle cx="142.2" cy="80.4" r="2.4"/>
<circle cx="143.5" cy="80.4" r="2.4"/>
<circle cx="145.7" cy="80.4" r="2.4"/>
<circle cx="147.4" cy="80.4" r="2.4"/>
<circle cx="148.4" cy="80.4" r="2.4"/>
<circle cx="149.6" cy="80.4" r="2.4"/>
<circle cx="151.3" cy="80.4" r="2.4"/>
<circle cx="152.9" cy="80.4" r="2.4"/>
<circle cx="155.1" cy="80.4" r="2.4"/>
<circle cx="297.9" cy="80.2" r="2.4"/>
<circle cx="299.2" cy="80.2" r="2.4"/>
<circle cx="301.8" cy="80.2" r="2.4"/>
<circle cx="304.8" cy="80.2" r="2.4"/>
<circle cx="307.3" cy="80.2" r="2.4"/>
<circle cx="310.3" cy="80.2" r="2.4"/>
<circle cx="312.1" cy="80.2" r="2.4"/>
<circle cx="314.5" cy="80.2" r="2.4"/>
<circle cx="316.9" cy="80.2" r="2.4"/>
<circle cx="319.5" cy="80.2" r="2.4"/>
<circle cx="322.0" cy="80.2" r="2.4"/>
<circle cx="324.7" cy="80.2" r="2.4"/>
<circle cx="326.5" cy="80.2" r="2.4"/>
<circle cx="329.1" cy="80.2" r="2.4"/>
<circle cx="331.4" cy="80.2" r="2.4"/>
<circle cx="80.0" cy="271.5" r="2.4"/>
<circle cx="85.7" cy="283.0" r="2.4"/>
<circle cx="284.0" cy="163.0" r="2.4"/>
<circle cx="283.0" cy="186.0" r="2.4"/>
<circle cx="272.0" cy="198.5" r="2.4"/>
<circle cx="164.0" cy="148.0" r="2.4"/>
<circle cx="340.0" cy="160.0" r="2.4"/>
<circle cx="344.0" cy="154.0" r="2.4"/>
</g>
<g filter="url(#bl2)">
<polygon points="64,361 64,343 82,330 108,320 126,312 142,320 166,333 184,348 190,361" fill="url(#glow)"/>
<polygon points="63,361 63,356 95,346 100,350 70,362" fill="#4A55F0" opacity="0.4"/>
<polygon points="245,361 249,346 264,334 292,322 318,314 344,322 364,336 377,350 380,361" fill="url(#glow)"/>
<polygon points="243,361 246,352 272,346 285,352 262,362" fill="#4A55F0" opacity="0.4"/>
<polygon points="380,361 378,354 352,350 340,356 355,362" fill="#4A55F0" opacity="0.4"/>
</g>
<rect x="193" y="362" width="36" height="4.7" fill="#4538D7" opacity="0.55"/>
<rect x="381" y="362" width="42" height="4.7" fill="#4538D7" opacity="0.55"/>
<g filter="url(#bl)">
<rect x="62.5" y="359.2" width="393" height="2.6" fill="url(#h1)"/>
<rect x="222" y="361.4" width="194" height="4.4" fill="url(#h2)"/>
<rect x="416" y="360.6" width="39.5" height="6" fill="url(#h2)"/>
<rect x="423" y="358.4" width="32.5" height="2.8" fill="#2499E8"/>
</g>
<rect x="111" y="364.6" width="14" height="2.4" fill="#fff"/>
<rect x="104" y="365.4" width="2" height="1.6" fill="#fff"/>
<rect x="323.5" y="365" width="5.5" height="2" fill="#fff"/>
<rect x="296" y="365.6" width="3.5" height="1.4" fill="#fff"/>
</g>
<polyline points="66.4,218.3 68.8,212.8 71.0,207.9 73.2,202.9 75.3,198.0 77.5,193.1 79.6,188.3 81.8,183.4 84.0,178.7 86.1,174.0 88.3,169.3 90.5,164.7 92.6,160.2 94.8,155.8 97.0,151.4 99.1,147.2 101.3,143.0 103.5,138.9 105.6,134.9 107.8,131.0 109.9,127.3 112.1,123.6 114.3,120.1 116.4,116.7 118.6,113.5 120.8,110.3 122.9,107.3 125.1,104.5 127.3,101.7 129.4,99.2 131.6,96.8 133.7,94.5 135.9,92.4 138.1,90.5 140.2,88.7 142.4,87.0 144.6,85.6 146.7,84.3 148.9,83.2 151.1,82.2 153.2,81.4 155.4,80.8 157.5,80.4 159.7,80.1 161.9,80.1 164.0,80.1 166.2,80.4 168.4,80.8 170.5,81.4 172.7,82.2 174.9,83.2 177.0,84.3 179.2,85.6 181.3,87.0 183.5,88.7 185.7,90.5 187.8,92.4 190.0,94.5 192.2,96.8 194.3,99.2 196.5,101.7 198.7,104.5 200.8,107.3 203.0,110.3 205.2,113.5 207.3,116.7 209.5,120.1 211.6,123.6 213.8,127.3 216.0,131.0 218.1,134.9 220.3,138.9 222.5,143.0 224.6,147.2 226.8,151.4 229.0,155.8 231.1,160.2 233.3,164.7 235.4,169.3 237.6,174.0 239.8,178.7 241.9,183.4 244.1,188.3 246.3,193.1 248.4,198.0 250.6,202.9 252.8,207.9 254.9,212.8 257.1,217.8 259.2,222.8 261.4,227.8 263.6,232.7 265.7,237.7 267.9,242.6 270.1,247.6 272.2,252.5 274.4,257.3 276.6,262.1 278.7,266.9 280.9,271.6 283.1,276.2 285.2,280.8 287.4,285.3 289.5,289.8 291.7,294.1 293.9,298.4 296.0,302.6 298.2,306.7 300.4,310.6 302.5,314.5 304.7,318.3 306.9,321.9 309.0,325.4 311.2,328.8 313.3,332.1 315.5,335.2 317.7,338.2 319.8,341.1 322.0,343.8 324.2,346.4 326.3,348.8 328.5,351.1 330.7,353.2 332.8,355.1 335.0,356.9 337.1,358.5 339.3,360.0 341.5,361.3 343.6,362.4 345.8,363.3 348.0,364.1 350.1,364.7 352.3,365.2 354.5,365.4 356.6,365.5 358.8,365.4 361.0,365.2 363.1,364.7 365.3,364.1 367.4,363.3 369.6,362.4 371.8,361.3 373.9,360.0 376.1,358.5 378.3,356.9 380.4,355.1 382.6,353.2 384.8,351.1 386.9,348.8 389.1,346.4 391.2,343.8 393.4,341.1 395.6,338.2 397.7,335.2 399.9,332.1 402.1,328.8 404.2,325.4 406.4,321.9 408.6,318.3 410.7,314.5 412.9,310.6 415.1,306.7 417.2,302.6 419.4,298.4 421.5,294.1 423.7,289.8 425.9,285.3 428.0,280.8 430.2,276.2 432.4,271.6 434.5,266.9 436.7,262.1 438.9,257.3 441.0,252.5 443.2,247.6 445.3,242.6 447.5,237.7 449.7,232.7 451.8,227.8 454.0,222.8" fill="none" stroke="#000" stroke-width="3.0" stroke-linejoin="round"/>
<rect x="476.5" y="23.0" width="22.8" height="343.0" fill="url(#par)"/>
<rect x="476.5" y="23.5" width="22.8" height="342.5" fill="none" stroke="#8a8a8a" stroke-width="0.6"/>
<g stroke="#555" stroke-width="0.8">
<line x1="496.3" y1="328.4" x2="499.3" y2="328.4"/>
<line x1="496.3" y1="289.8" x2="499.3" y2="289.8"/>
<line x1="496.3" y1="251.1" x2="499.3" y2="251.1"/>
<line x1="496.3" y1="212.5" x2="499.3" y2="212.5"/>
<line x1="496.3" y1="173.9" x2="499.3" y2="173.9"/>
<line x1="496.3" y1="135.2" x2="499.3" y2="135.2"/>
<line x1="496.3" y1="96.6" x2="499.3" y2="96.6"/>
<line x1="496.3" y1="58.0" x2="499.3" y2="58.0"/>
</g>
<g font-family="'Liberation Sans', Arial, sans-serif" font-size="12.8" fill="#262626">
<text transform="translate(503.8,333.0) scale(0.94,1)">100</text>
<text transform="translate(503.8,294.4) scale(0.94,1)">200</text>
<text transform="translate(503.8,255.7) scale(0.94,1)">300</text>
<text transform="translate(503.8,217.1) scale(0.94,1)">400</text>
<text transform="translate(503.8,178.5) scale(0.94,1)">500</text>
<text transform="translate(503.8,139.8) scale(0.94,1)">600</text>
<text transform="translate(503.8,101.2) scale(0.94,1)">700</text>
<text transform="translate(503.8,62.6) scale(0.94,1)">800</text>
</g>
<text font-family="'Liberation Sans', Arial, sans-serif" font-size="12.8" fill="#262626" text-anchor="middle" transform="translate(542.6,193.2) rotate(-90)" textLength="201" lengthAdjust="spacingAndGlyphs">Number of pulses per discharge level</text>
<g font-family="'Liberation Sans', Arial, sans-serif" font-size="13.95" fill="#262626" text-anchor="end">
<text transform="translate(57.7,370.3) scale(0.955,1)">0</text>
<text transform="translate(57.7,336.6) scale(0.955,1)">500</text>
<text transform="translate(57.7,302.9) scale(0.955,1)">1000</text>
<text transform="translate(57.7,269.2) scale(0.955,1)">1500</text>
<text transform="translate(57.7,235.5) scale(0.955,1)">2000</text>
<text transform="translate(57.7,201.8) scale(0.955,1)">2500</text>
<text transform="translate(57.7,168.1) scale(0.955,1)">3000</text>
<text transform="translate(57.7,134.4) scale(0.955,1)">3500</text>
<text transform="translate(57.7,100.7) scale(0.955,1)">4000</text>
<text transform="translate(57.7,67.0) scale(0.955,1)">4500</text>
<text transform="translate(57.7,33.3) scale(0.955,1)">5000</text>
</g>
<g font-family="'Liberation Sans', Arial, sans-serif" font-size="13.4" fill="#262626" text-anchor="end">
<text transform="translate(73.8,382.0) scale(0.985,1.02) rotate(-45)">0</text>
<text transform="translate(106.3,382.0) scale(0.985,1.02) rotate(-45)">30</text>
<text transform="translate(138.7,382.0) scale(0.985,1.02) rotate(-45)">60</text>
<text transform="translate(171.2,382.0) scale(0.985,1.02) rotate(-45)">90</text>
<text transform="translate(203.6,382.0) scale(0.985,1.02) rotate(-45)">120</text>
<text transform="translate(236.1,382.0) scale(0.985,1.02) rotate(-45)">150</text>
<text transform="translate(268.6,382.0) scale(0.985,1.02) rotate(-45)">180</text>
<text transform="translate(301.0,382.0) scale(0.985,1.02) rotate(-45)">210</text>
<text transform="translate(333.5,382.0) scale(0.985,1.02) rotate(-45)">240</text>
<text transform="translate(365.9,382.0) scale(0.985,1.02) rotate(-45)">270</text>
<text transform="translate(398.4,382.0) scale(0.985,1.02) rotate(-45)">300</text>
<text transform="translate(430.8,382.0) scale(0.985,1.02) rotate(-45)">330</text>
<text transform="translate(463.3,382.0) scale(0.985,1.02) rotate(-45)">360</text>
</g>
<text font-family="'Liberation Sans', Arial, sans-serif" font-size="15.35" fill="#262626" text-anchor="middle" transform="translate(259.2,416.8) scale(0.955,1)">Fase (º)</text>
<text font-family="'Liberation Sans', Arial, sans-serif" font-size="15.35" fill="#262626" text-anchor="middle" transform="translate(19.3,195) rotate(-90) scale(0.955,1)">Charge (pC)</text>
<text font-family="'Liberation Sans', Arial, sans-serif" font-size="15.5" font-weight="bold" fill="#000" text-anchor="middle" x="258.8" y="16.4" xml:space="preserve" style="white-space:pre" textLength="231" lengthAdjust="spacingAndGlyphs">Apparent Charge Signal  at 80kV</text>
</svg>
</body></html>
